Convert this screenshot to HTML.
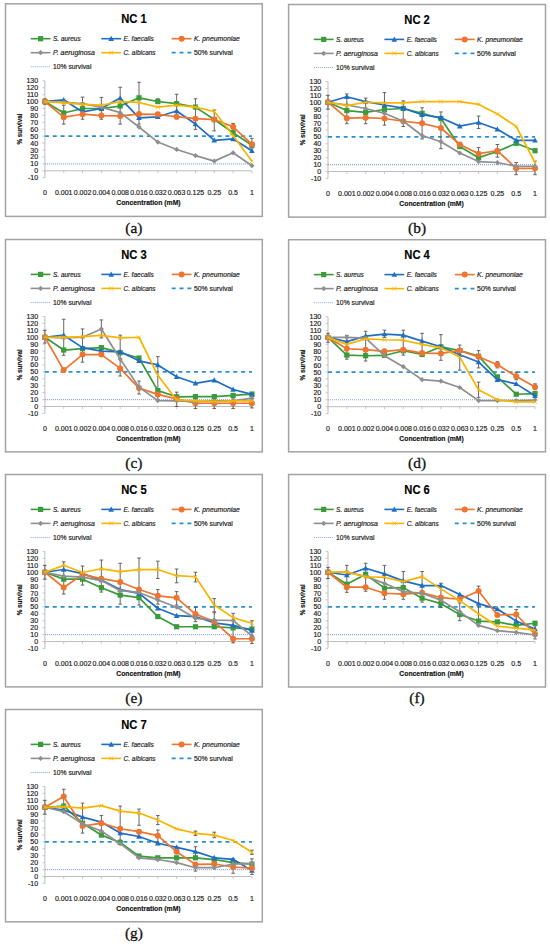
<!DOCTYPE html><html><head><meta charset="utf-8"><style>html,body{margin:0;padding:0;background:#fff;}svg{display:block} text.s{stroke:#222;stroke-width:0.17px;paint-order:stroke} text.l{stroke:#111;stroke-width:0.3px}</style></head><body>
<svg width="550" height="947" viewBox="0 0 550 947">
<rect width="550" height="947" fill="#fff"/>
<g><rect x="5.5" y="3.8" width="256.8" height="212.6" fill="none" stroke="#a3a3a3" stroke-width="1.5"/><text x="133.9" y="23" class="s" font-family='"Liberation Sans", sans-serif' font-weight="bold" font-size="12.5" text-anchor="middle" fill="#000" textLength="25.5" lengthAdjust="spacingAndGlyphs">NC 1</text><line x1="30.7" y1="38.7" x2="50.5" y2="38.7" stroke="#3a9b3a" stroke-width="1.6"/><rect x="38" y="36.1" width="5.2" height="5.2" fill="#3a9b3a"/><text x="53" y="41.1" class="s" font-family='"Liberation Sans", sans-serif' font-size="6.6" font-style="italic" fill="#222" textLength="27.7" lengthAdjust="spacingAndGlyphs">S. aureus</text><line x1="101.3" y1="38.7" x2="121.1" y2="38.7" stroke="#1f6ec4" stroke-width="1.6"/><path d="M111.2 35.76L114 40.94L108.4 40.94Z" fill="#1f6ec4"/><text x="123.6" y="41.1" class="s" font-family='"Liberation Sans", sans-serif' font-size="6.6" font-style="italic" fill="#222" textLength="30.2" lengthAdjust="spacingAndGlyphs">E. faecalis</text><line x1="171.7" y1="38.7" x2="191.5" y2="38.7" stroke="#ee7430" stroke-width="1.6"/><circle cx="181.6" cy="38.7" r="3" fill="#ee7430"/><text x="194" y="41.1" class="s" font-family='"Liberation Sans", sans-serif' font-size="6.6" font-style="italic" fill="#222" textLength="45.8" lengthAdjust="spacingAndGlyphs">K. pneumoniae</text><line x1="30.7" y1="52.7" x2="50.5" y2="52.7" stroke="#8f8f8f" stroke-width="1.6"/><path d="M40.6 50.1L43.2 52.7L40.6 55.3L38 52.7Z" fill="#8f8f8f"/><text x="53" y="55.1" class="s" font-family='"Liberation Sans", sans-serif' font-size="6.6" font-style="italic" fill="#222" textLength="41.8" lengthAdjust="spacingAndGlyphs">P. aeruginosa</text><line x1="101.3" y1="52.7" x2="121.1" y2="52.7" stroke="#f7b500" stroke-width="1.6"/><path d="M109.2 50.7L113.2 54.7M113.2 50.7L109.2 54.7" stroke="#f7b500" stroke-width="0.8" fill="none"/><text x="123.6" y="55.1" class="s" font-family='"Liberation Sans", sans-serif' font-size="6.6" font-style="italic" fill="#222" textLength="32" lengthAdjust="spacingAndGlyphs">C. albicans</text><line x1="171.7" y1="52.7" x2="191.5" y2="52.7" stroke="#2891cf" stroke-width="1.8" stroke-dasharray="4 3.85"/><text x="194" y="55.1" class="s" font-family='"Liberation Sans", sans-serif' font-size="6.6" fill="#222" textLength="38.8" lengthAdjust="spacingAndGlyphs">50% survival</text><line x1="30.7" y1="66.8" x2="50.5" y2="66.8" stroke="#8aa4df" stroke-width="1" stroke-dasharray="1 1"/><text x="53" y="69.2" class="s" font-family='"Liberation Sans", sans-serif' font-size="6.6" fill="#222" textLength="38.4" lengthAdjust="spacingAndGlyphs">10% survival</text><line x1="44.9" y1="80.78" x2="44.9" y2="177.73" stroke="#bdbdbd" stroke-width="1"/><line x1="42.4" y1="177.73" x2="44.9" y2="177.73" stroke="#bdbdbd" stroke-width="0.8"/><text x="38.1" y="180.23" class="s" font-family='"Liberation Sans", sans-serif' font-size="7" text-anchor="end" fill="#222">-10</text><line x1="42.4" y1="170.8" x2="44.9" y2="170.8" stroke="#bdbdbd" stroke-width="0.8"/><text x="38.1" y="173.3" class="s" font-family='"Liberation Sans", sans-serif' font-size="7" text-anchor="end" fill="#222">0</text><line x1="42.4" y1="163.88" x2="44.9" y2="163.88" stroke="#bdbdbd" stroke-width="0.8"/><text x="38.1" y="166.38" class="s" font-family='"Liberation Sans", sans-serif' font-size="7" text-anchor="end" fill="#222">10</text><line x1="42.4" y1="156.95" x2="44.9" y2="156.95" stroke="#bdbdbd" stroke-width="0.8"/><text x="38.1" y="159.45" class="s" font-family='"Liberation Sans", sans-serif' font-size="7" text-anchor="end" fill="#222">20</text><line x1="42.4" y1="150.03" x2="44.9" y2="150.03" stroke="#bdbdbd" stroke-width="0.8"/><text x="38.1" y="152.53" class="s" font-family='"Liberation Sans", sans-serif' font-size="7" text-anchor="end" fill="#222">30</text><line x1="42.4" y1="143.1" x2="44.9" y2="143.1" stroke="#bdbdbd" stroke-width="0.8"/><text x="38.1" y="145.6" class="s" font-family='"Liberation Sans", sans-serif' font-size="7" text-anchor="end" fill="#222">40</text><line x1="42.4" y1="136.18" x2="44.9" y2="136.18" stroke="#bdbdbd" stroke-width="0.8"/><text x="38.1" y="138.68" class="s" font-family='"Liberation Sans", sans-serif' font-size="7" text-anchor="end" fill="#222">50</text><line x1="42.4" y1="129.25" x2="44.9" y2="129.25" stroke="#bdbdbd" stroke-width="0.8"/><text x="38.1" y="131.75" class="s" font-family='"Liberation Sans", sans-serif' font-size="7" text-anchor="end" fill="#222">60</text><line x1="42.4" y1="122.33" x2="44.9" y2="122.33" stroke="#bdbdbd" stroke-width="0.8"/><text x="38.1" y="124.83" class="s" font-family='"Liberation Sans", sans-serif' font-size="7" text-anchor="end" fill="#222">70</text><line x1="42.4" y1="115.4" x2="44.9" y2="115.4" stroke="#bdbdbd" stroke-width="0.8"/><text x="38.1" y="117.9" class="s" font-family='"Liberation Sans", sans-serif' font-size="7" text-anchor="end" fill="#222">80</text><line x1="42.4" y1="108.48" x2="44.9" y2="108.48" stroke="#bdbdbd" stroke-width="0.8"/><text x="38.1" y="110.98" class="s" font-family='"Liberation Sans", sans-serif' font-size="7" text-anchor="end" fill="#222">90</text><line x1="42.4" y1="101.55" x2="44.9" y2="101.55" stroke="#bdbdbd" stroke-width="0.8"/><text x="38.1" y="104.05" class="s" font-family='"Liberation Sans", sans-serif' font-size="7" text-anchor="end" fill="#222">100</text><line x1="42.4" y1="94.63" x2="44.9" y2="94.63" stroke="#bdbdbd" stroke-width="0.8"/><text x="38.1" y="97.13" class="s" font-family='"Liberation Sans", sans-serif' font-size="7" text-anchor="end" fill="#222">110</text><line x1="42.4" y1="87.7" x2="44.9" y2="87.7" stroke="#bdbdbd" stroke-width="0.8"/><text x="38.1" y="90.2" class="s" font-family='"Liberation Sans", sans-serif' font-size="7" text-anchor="end" fill="#222">120</text><line x1="42.4" y1="80.78" x2="44.9" y2="80.78" stroke="#bdbdbd" stroke-width="0.8"/><text x="38.1" y="83.28" class="s" font-family='"Liberation Sans", sans-serif' font-size="7" text-anchor="end" fill="#222">130</text><line x1="44.9" y1="170.8" x2="251.92" y2="170.8" stroke="#bdbdbd" stroke-width="1"/><line x1="44.9" y1="170.8" x2="44.9" y2="173.3" stroke="#bdbdbd" stroke-width="0.8"/><text x="44.9" y="195.2" class="s" font-family='"Liberation Sans", sans-serif' font-size="7" text-anchor="middle" fill="#222">0</text><line x1="63.72" y1="170.8" x2="63.72" y2="173.3" stroke="#bdbdbd" stroke-width="0.8"/><text x="63.72" y="195.2" class="s" font-family='"Liberation Sans", sans-serif' font-size="7" text-anchor="middle" fill="#222">0.001</text><line x1="82.54" y1="170.8" x2="82.54" y2="173.3" stroke="#bdbdbd" stroke-width="0.8"/><text x="82.54" y="195.2" class="s" font-family='"Liberation Sans", sans-serif' font-size="7" text-anchor="middle" fill="#222">0.002</text><line x1="101.36" y1="170.8" x2="101.36" y2="173.3" stroke="#bdbdbd" stroke-width="0.8"/><text x="101.36" y="195.2" class="s" font-family='"Liberation Sans", sans-serif' font-size="7" text-anchor="middle" fill="#222">0.004</text><line x1="120.18" y1="170.8" x2="120.18" y2="173.3" stroke="#bdbdbd" stroke-width="0.8"/><text x="120.18" y="195.2" class="s" font-family='"Liberation Sans", sans-serif' font-size="7" text-anchor="middle" fill="#222">0.008</text><line x1="139" y1="170.8" x2="139" y2="173.3" stroke="#bdbdbd" stroke-width="0.8"/><text x="139" y="195.2" class="s" font-family='"Liberation Sans", sans-serif' font-size="7" text-anchor="middle" fill="#222">0.016</text><line x1="157.82" y1="170.8" x2="157.82" y2="173.3" stroke="#bdbdbd" stroke-width="0.8"/><text x="157.82" y="195.2" class="s" font-family='"Liberation Sans", sans-serif' font-size="7" text-anchor="middle" fill="#222">0.032</text><line x1="176.64" y1="170.8" x2="176.64" y2="173.3" stroke="#bdbdbd" stroke-width="0.8"/><text x="176.64" y="195.2" class="s" font-family='"Liberation Sans", sans-serif' font-size="7" text-anchor="middle" fill="#222">0.063</text><line x1="195.46" y1="170.8" x2="195.46" y2="173.3" stroke="#bdbdbd" stroke-width="0.8"/><text x="195.46" y="195.2" class="s" font-family='"Liberation Sans", sans-serif' font-size="7" text-anchor="middle" fill="#222">0.125</text><line x1="214.28" y1="170.8" x2="214.28" y2="173.3" stroke="#bdbdbd" stroke-width="0.8"/><text x="214.28" y="195.2" class="s" font-family='"Liberation Sans", sans-serif' font-size="7" text-anchor="middle" fill="#222">0.25</text><line x1="233.1" y1="170.8" x2="233.1" y2="173.3" stroke="#bdbdbd" stroke-width="0.8"/><text x="233.1" y="195.2" class="s" font-family='"Liberation Sans", sans-serif' font-size="7" text-anchor="middle" fill="#222">0.5</text><line x1="251.92" y1="170.8" x2="251.92" y2="173.3" stroke="#bdbdbd" stroke-width="0.8"/><text x="251.92" y="195.2" class="s" font-family='"Liberation Sans", sans-serif' font-size="7" text-anchor="middle" fill="#222">1</text><text x="148.41" y="205.2" class="s" font-family='"Liberation Sans", sans-serif' font-size="7.4" font-weight="bold" text-anchor="middle" fill="#111" textLength="64.4" lengthAdjust="spacingAndGlyphs">Concentration (mM)</text><text transform="translate(22.3,129) rotate(-90)" class="s" font-family='"Liberation Sans", sans-serif' font-size="7.4" font-weight="bold" text-anchor="middle" fill="#111" textLength="31" lengthAdjust="spacingAndGlyphs">% survival</text><line x1="44.9" y1="163.88" x2="251.92" y2="163.88" stroke="#8aa4df" stroke-width="1.2" stroke-dasharray="1 1"/><line x1="44.9" y1="136.18" x2="251.92" y2="136.18" stroke="#2891cf" stroke-width="1.8" stroke-dasharray="4 3.85"/><path d="M44.9 98.78L44.9 104.32M43.1 98.78L46.7 98.78M43.1 104.32L46.7 104.32" stroke="#555" stroke-width="0.9" fill="none"/><path d="M63.72 105.29L63.72 124.13M61.92 105.29L65.52 105.29M61.92 124.13L65.52 124.13" stroke="#555" stroke-width="0.9" fill="none"/><path d="M82.54 97.12L82.54 119.21M80.74 97.12L84.34 97.12M80.74 119.21L84.34 119.21" stroke="#555" stroke-width="0.9" fill="none"/><path d="M101.36 97.4L101.36 119.21M99.56 97.4L103.16 97.4M99.56 119.21L103.16 119.21" stroke="#555" stroke-width="0.9" fill="none"/><path d="M120.18 87.28L120.18 124.13M118.38 87.28L121.98 87.28M118.38 124.13L121.98 124.13" stroke="#555" stroke-width="0.9" fill="none"/><path d="M139 82.3L139 124.06M137.2 82.3L140.8 82.3M137.2 124.06L140.8 124.06" stroke="#555" stroke-width="0.9" fill="none"/><path d="M157.82 98.78L157.82 103.63M156.02 98.78L159.62 98.78M156.02 103.63L159.62 103.63" stroke="#555" stroke-width="0.9" fill="none"/><path d="M176.64 94.28L176.64 118.86M174.84 94.28L178.44 94.28M174.84 118.86L178.44 118.86" stroke="#555" stroke-width="0.9" fill="none"/><path d="M195.46 98.78L195.46 129.39M193.66 98.78L197.26 98.78M193.66 129.39L197.26 129.39" stroke="#555" stroke-width="0.9" fill="none"/><path d="M214.28 110L214.28 130.84M212.48 110L216.08 110M212.48 130.84L216.08 130.84" stroke="#555" stroke-width="0.9" fill="none"/><path d="M233.1 123.43L233.1 130.15M231.3 123.43L234.9 123.43M231.3 130.15L234.9 130.15" stroke="#555" stroke-width="0.9" fill="none"/><path d="M251.92 138.32L251.92 148.02M250.12 138.32L253.72 138.32M250.12 148.02L253.72 148.02" stroke="#555" stroke-width="0.9" fill="none"/><polyline points="44.9,101.55 63.72,112.98 82.54,108.48 101.36,108.48 120.18,106.05 139,97.81 157.82,101.48 176.64,103.63 195.46,107.09 214.28,119.56 233.1,132.71 251.92,145.18" fill="none" stroke="#3a9b3a" stroke-width="1.7" stroke-linejoin="round"/><rect x="42.3" y="98.95" width="5.2" height="5.2" fill="#3a9b3a"/><rect x="61.12" y="110.38" width="5.2" height="5.2" fill="#3a9b3a"/><rect x="79.94" y="105.88" width="5.2" height="5.2" fill="#3a9b3a"/><rect x="98.76" y="105.88" width="5.2" height="5.2" fill="#3a9b3a"/><rect x="117.58" y="103.45" width="5.2" height="5.2" fill="#3a9b3a"/><rect x="136.4" y="95.21" width="5.2" height="5.2" fill="#3a9b3a"/><rect x="155.22" y="98.88" width="5.2" height="5.2" fill="#3a9b3a"/><rect x="174.04" y="101.03" width="5.2" height="5.2" fill="#3a9b3a"/><rect x="192.86" y="104.49" width="5.2" height="5.2" fill="#3a9b3a"/><rect x="211.68" y="116.96" width="5.2" height="5.2" fill="#3a9b3a"/><rect x="230.5" y="130.11" width="5.2" height="5.2" fill="#3a9b3a"/><rect x="249.32" y="142.58" width="5.2" height="5.2" fill="#3a9b3a"/><polyline points="44.9,101.55 63.72,99.82 82.54,111.94 101.36,108.48 120.18,98.09 139,117.82 157.82,116.79 176.64,110.97 195.46,124.06 214.28,140.33 233.1,138.95 251.92,150.72" fill="none" stroke="#1f6ec4" stroke-width="1.7" stroke-linejoin="round"/><path d="M44.9 98.61L47.7 103.79L42.1 103.79Z" fill="#1f6ec4"/><path d="M63.72 96.88L66.52 102.06L60.92 102.06Z" fill="#1f6ec4"/><path d="M82.54 109L85.34 114.18L79.74 114.18Z" fill="#1f6ec4"/><path d="M101.36 105.54L104.16 110.72L98.56 110.72Z" fill="#1f6ec4"/><path d="M120.18 95.15L122.98 100.33L117.38 100.33Z" fill="#1f6ec4"/><path d="M139 114.88L141.8 120.06L136.2 120.06Z" fill="#1f6ec4"/><path d="M157.82 113.85L160.62 119.03L155.02 119.03Z" fill="#1f6ec4"/><path d="M176.64 108.03L179.44 113.21L173.84 113.21Z" fill="#1f6ec4"/><path d="M195.46 121.12L198.26 126.3L192.66 126.3Z" fill="#1f6ec4"/><path d="M214.28 137.39L217.08 142.57L211.48 142.57Z" fill="#1f6ec4"/><path d="M233.1 136.01L235.9 141.19L230.3 141.19Z" fill="#1f6ec4"/><path d="M251.92 147.78L254.72 152.96L249.12 152.96Z" fill="#1f6ec4"/><polyline points="44.9,101.55 63.72,117.2 82.54,114.22 101.36,115.54 120.18,115.88 139,114.08 157.82,114.29 176.64,116.72 195.46,118.65 214.28,119.56 233.1,126.83 251.92,144.28" fill="none" stroke="#ee7430" stroke-width="1.7" stroke-linejoin="round"/><circle cx="44.9" cy="101.55" r="3" fill="#ee7430"/><circle cx="63.72" cy="117.2" r="3" fill="#ee7430"/><circle cx="82.54" cy="114.22" r="3" fill="#ee7430"/><circle cx="101.36" cy="115.54" r="3" fill="#ee7430"/><circle cx="120.18" cy="115.88" r="3" fill="#ee7430"/><circle cx="139" cy="114.08" r="3" fill="#ee7430"/><circle cx="157.82" cy="114.29" r="3" fill="#ee7430"/><circle cx="176.64" cy="116.72" r="3" fill="#ee7430"/><circle cx="195.46" cy="118.65" r="3" fill="#ee7430"/><circle cx="214.28" cy="119.56" r="3" fill="#ee7430"/><circle cx="233.1" cy="126.83" r="3" fill="#ee7430"/><circle cx="251.92" cy="144.28" r="3" fill="#ee7430"/><polyline points="44.9,101.55 63.72,102.24 82.54,103.63 101.36,107.09 120.18,112.63 139,127.03 157.82,142.06 176.64,149.47 195.46,155.56 214.28,161.11 233.1,152.8 251.92,165.68" fill="none" stroke="#8f8f8f" stroke-width="1.7" stroke-linejoin="round"/><path d="M44.9 98.95L47.5 101.55L44.9 104.15L42.3 101.55Z" fill="#8f8f8f"/><path d="M63.72 99.64L66.32 102.24L63.72 104.84L61.12 102.24Z" fill="#8f8f8f"/><path d="M82.54 101.03L85.14 103.63L82.54 106.23L79.94 103.63Z" fill="#8f8f8f"/><path d="M101.36 104.49L103.96 107.09L101.36 109.69L98.76 107.09Z" fill="#8f8f8f"/><path d="M120.18 110.03L122.78 112.63L120.18 115.23L117.58 112.63Z" fill="#8f8f8f"/><path d="M139 124.43L141.6 127.03L139 129.63L136.4 127.03Z" fill="#8f8f8f"/><path d="M157.82 139.46L160.42 142.06L157.82 144.66L155.22 142.06Z" fill="#8f8f8f"/><path d="M176.64 146.87L179.24 149.47L176.64 152.07L174.04 149.47Z" fill="#8f8f8f"/><path d="M195.46 152.97L198.06 155.56L195.46 158.16L192.86 155.56Z" fill="#8f8f8f"/><path d="M214.28 158.51L216.88 161.11L214.28 163.71L211.68 161.11Z" fill="#8f8f8f"/><path d="M233.1 150.2L235.7 152.8L233.1 155.4L230.5 152.8Z" fill="#8f8f8f"/><path d="M251.92 163.08L254.52 165.68L251.92 168.28L249.32 165.68Z" fill="#8f8f8f"/><polyline points="44.9,101.55 63.72,102.94 82.54,104.32 101.36,105.22 120.18,101.69 139,102.45 157.82,107.16 176.64,105.22 195.46,107.09 214.28,111.52 233.1,135.48 251.92,161.17" fill="none" stroke="#f7b500" stroke-width="1.7" stroke-linejoin="round"/><path d="M42.9 99.55L46.9 103.55M46.9 99.55L42.9 103.55" stroke="#f7b500" stroke-width="0.8" fill="none"/><path d="M61.72 100.94L65.72 104.94M65.72 100.94L61.72 104.94" stroke="#f7b500" stroke-width="0.8" fill="none"/><path d="M80.54 102.32L84.54 106.32M84.54 102.32L80.54 106.32" stroke="#f7b500" stroke-width="0.8" fill="none"/><path d="M99.36 103.22L103.36 107.22M103.36 103.22L99.36 107.22" stroke="#f7b500" stroke-width="0.8" fill="none"/><path d="M118.18 99.69L122.18 103.69M122.18 99.69L118.18 103.69" stroke="#f7b500" stroke-width="0.8" fill="none"/><path d="M137 100.45L141 104.45M141 100.45L137 104.45" stroke="#f7b500" stroke-width="0.8" fill="none"/><path d="M155.82 105.16L159.82 109.16M159.82 105.16L155.82 109.16" stroke="#f7b500" stroke-width="0.8" fill="none"/><path d="M174.64 103.22L178.64 107.22M178.64 103.22L174.64 107.22" stroke="#f7b500" stroke-width="0.8" fill="none"/><path d="M193.46 105.09L197.46 109.09M197.46 105.09L193.46 109.09" stroke="#f7b500" stroke-width="0.8" fill="none"/><path d="M212.28 109.52L216.28 113.52M216.28 109.52L212.28 113.52" stroke="#f7b500" stroke-width="0.8" fill="none"/><path d="M231.1 133.48L235.1 137.48M235.1 133.48L231.1 137.48" stroke="#f7b500" stroke-width="0.8" fill="none"/><path d="M249.92 159.17L253.92 163.17M253.92 159.17L249.92 163.17" stroke="#f7b500" stroke-width="0.8" fill="none"/><text x="133.9" y="233.3" class="l" font-family='"Liberation Serif", serif' font-size="15.4" text-anchor="middle" fill="#111">(a)</text></g>
<g><rect x="288.6" y="4.5" width="256.9" height="212.6" fill="none" stroke="#a3a3a3" stroke-width="1.5"/><text x="417.05" y="23.7" class="s" font-family='"Liberation Sans", sans-serif' font-weight="bold" font-size="12.5" text-anchor="middle" fill="#000" textLength="25.5" lengthAdjust="spacingAndGlyphs">NC 2</text><line x1="313.8" y1="39.4" x2="333.6" y2="39.4" stroke="#3a9b3a" stroke-width="1.6"/><rect x="321.1" y="36.8" width="5.2" height="5.2" fill="#3a9b3a"/><text x="336.1" y="41.8" class="s" font-family='"Liberation Sans", sans-serif' font-size="6.6" font-style="italic" fill="#222" textLength="27.7" lengthAdjust="spacingAndGlyphs">S. aureus</text><line x1="384.4" y1="39.4" x2="404.2" y2="39.4" stroke="#1f6ec4" stroke-width="1.6"/><path d="M394.3 36.46L397.1 41.64L391.5 41.64Z" fill="#1f6ec4"/><text x="406.7" y="41.8" class="s" font-family='"Liberation Sans", sans-serif' font-size="6.6" font-style="italic" fill="#222" textLength="30.2" lengthAdjust="spacingAndGlyphs">E. faecalis</text><line x1="454.8" y1="39.4" x2="474.6" y2="39.4" stroke="#ee7430" stroke-width="1.6"/><circle cx="464.7" cy="39.4" r="3" fill="#ee7430"/><text x="477.1" y="41.8" class="s" font-family='"Liberation Sans", sans-serif' font-size="6.6" font-style="italic" fill="#222" textLength="45.8" lengthAdjust="spacingAndGlyphs">K. pneumoniae</text><line x1="313.8" y1="53.4" x2="333.6" y2="53.4" stroke="#8f8f8f" stroke-width="1.6"/><path d="M323.7 50.8L326.3 53.4L323.7 56L321.1 53.4Z" fill="#8f8f8f"/><text x="336.1" y="55.8" class="s" font-family='"Liberation Sans", sans-serif' font-size="6.6" font-style="italic" fill="#222" textLength="41.8" lengthAdjust="spacingAndGlyphs">P. aeruginosa</text><line x1="384.4" y1="53.4" x2="404.2" y2="53.4" stroke="#f7b500" stroke-width="1.6"/><path d="M392.3 51.4L396.3 55.4M396.3 51.4L392.3 55.4" stroke="#f7b500" stroke-width="0.8" fill="none"/><text x="406.7" y="55.8" class="s" font-family='"Liberation Sans", sans-serif' font-size="6.6" font-style="italic" fill="#222" textLength="32" lengthAdjust="spacingAndGlyphs">C. albicans</text><line x1="454.8" y1="53.4" x2="474.6" y2="53.4" stroke="#2891cf" stroke-width="1.8" stroke-dasharray="4 3.85"/><text x="477.1" y="55.8" class="s" font-family='"Liberation Sans", sans-serif' font-size="6.6" fill="#222" textLength="38.8" lengthAdjust="spacingAndGlyphs">50% survival</text><line x1="313.8" y1="67.5" x2="333.6" y2="67.5" stroke="#8aa4df" stroke-width="1" stroke-dasharray="1 1"/><text x="336.1" y="69.9" class="s" font-family='"Liberation Sans", sans-serif' font-size="6.6" fill="#222" textLength="38.4" lengthAdjust="spacingAndGlyphs">10% survival</text><line x1="328" y1="81.47" x2="328" y2="178.43" stroke="#bdbdbd" stroke-width="1"/><line x1="325.5" y1="178.43" x2="328" y2="178.43" stroke="#bdbdbd" stroke-width="0.8"/><text x="321.2" y="180.93" class="s" font-family='"Liberation Sans", sans-serif' font-size="7" text-anchor="end" fill="#222">-10</text><line x1="325.5" y1="171.5" x2="328" y2="171.5" stroke="#bdbdbd" stroke-width="0.8"/><text x="321.2" y="174" class="s" font-family='"Liberation Sans", sans-serif' font-size="7" text-anchor="end" fill="#222">0</text><line x1="325.5" y1="164.57" x2="328" y2="164.57" stroke="#bdbdbd" stroke-width="0.8"/><text x="321.2" y="167.07" class="s" font-family='"Liberation Sans", sans-serif' font-size="7" text-anchor="end" fill="#222">10</text><line x1="325.5" y1="157.65" x2="328" y2="157.65" stroke="#bdbdbd" stroke-width="0.8"/><text x="321.2" y="160.15" class="s" font-family='"Liberation Sans", sans-serif' font-size="7" text-anchor="end" fill="#222">20</text><line x1="325.5" y1="150.72" x2="328" y2="150.72" stroke="#bdbdbd" stroke-width="0.8"/><text x="321.2" y="153.22" class="s" font-family='"Liberation Sans", sans-serif' font-size="7" text-anchor="end" fill="#222">30</text><line x1="325.5" y1="143.8" x2="328" y2="143.8" stroke="#bdbdbd" stroke-width="0.8"/><text x="321.2" y="146.3" class="s" font-family='"Liberation Sans", sans-serif' font-size="7" text-anchor="end" fill="#222">40</text><line x1="325.5" y1="136.88" x2="328" y2="136.88" stroke="#bdbdbd" stroke-width="0.8"/><text x="321.2" y="139.38" class="s" font-family='"Liberation Sans", sans-serif' font-size="7" text-anchor="end" fill="#222">50</text><line x1="325.5" y1="129.95" x2="328" y2="129.95" stroke="#bdbdbd" stroke-width="0.8"/><text x="321.2" y="132.45" class="s" font-family='"Liberation Sans", sans-serif' font-size="7" text-anchor="end" fill="#222">60</text><line x1="325.5" y1="123.03" x2="328" y2="123.03" stroke="#bdbdbd" stroke-width="0.8"/><text x="321.2" y="125.53" class="s" font-family='"Liberation Sans", sans-serif' font-size="7" text-anchor="end" fill="#222">70</text><line x1="325.5" y1="116.1" x2="328" y2="116.1" stroke="#bdbdbd" stroke-width="0.8"/><text x="321.2" y="118.6" class="s" font-family='"Liberation Sans", sans-serif' font-size="7" text-anchor="end" fill="#222">80</text><line x1="325.5" y1="109.17" x2="328" y2="109.17" stroke="#bdbdbd" stroke-width="0.8"/><text x="321.2" y="111.67" class="s" font-family='"Liberation Sans", sans-serif' font-size="7" text-anchor="end" fill="#222">90</text><line x1="325.5" y1="102.25" x2="328" y2="102.25" stroke="#bdbdbd" stroke-width="0.8"/><text x="321.2" y="104.75" class="s" font-family='"Liberation Sans", sans-serif' font-size="7" text-anchor="end" fill="#222">100</text><line x1="325.5" y1="95.33" x2="328" y2="95.33" stroke="#bdbdbd" stroke-width="0.8"/><text x="321.2" y="97.83" class="s" font-family='"Liberation Sans", sans-serif' font-size="7" text-anchor="end" fill="#222">110</text><line x1="325.5" y1="88.4" x2="328" y2="88.4" stroke="#bdbdbd" stroke-width="0.8"/><text x="321.2" y="90.9" class="s" font-family='"Liberation Sans", sans-serif' font-size="7" text-anchor="end" fill="#222">120</text><line x1="325.5" y1="81.47" x2="328" y2="81.47" stroke="#bdbdbd" stroke-width="0.8"/><text x="321.2" y="83.97" class="s" font-family='"Liberation Sans", sans-serif' font-size="7" text-anchor="end" fill="#222">130</text><line x1="328" y1="171.5" x2="535.02" y2="171.5" stroke="#bdbdbd" stroke-width="1"/><line x1="328" y1="171.5" x2="328" y2="174" stroke="#bdbdbd" stroke-width="0.8"/><text x="328" y="195.9" class="s" font-family='"Liberation Sans", sans-serif' font-size="7" text-anchor="middle" fill="#222">0</text><line x1="346.82" y1="171.5" x2="346.82" y2="174" stroke="#bdbdbd" stroke-width="0.8"/><text x="346.82" y="195.9" class="s" font-family='"Liberation Sans", sans-serif' font-size="7" text-anchor="middle" fill="#222">0.001</text><line x1="365.64" y1="171.5" x2="365.64" y2="174" stroke="#bdbdbd" stroke-width="0.8"/><text x="365.64" y="195.9" class="s" font-family='"Liberation Sans", sans-serif' font-size="7" text-anchor="middle" fill="#222">0.002</text><line x1="384.46" y1="171.5" x2="384.46" y2="174" stroke="#bdbdbd" stroke-width="0.8"/><text x="384.46" y="195.9" class="s" font-family='"Liberation Sans", sans-serif' font-size="7" text-anchor="middle" fill="#222">0.004</text><line x1="403.28" y1="171.5" x2="403.28" y2="174" stroke="#bdbdbd" stroke-width="0.8"/><text x="403.28" y="195.9" class="s" font-family='"Liberation Sans", sans-serif' font-size="7" text-anchor="middle" fill="#222">0.008</text><line x1="422.1" y1="171.5" x2="422.1" y2="174" stroke="#bdbdbd" stroke-width="0.8"/><text x="422.1" y="195.9" class="s" font-family='"Liberation Sans", sans-serif' font-size="7" text-anchor="middle" fill="#222">0.016</text><line x1="440.92" y1="171.5" x2="440.92" y2="174" stroke="#bdbdbd" stroke-width="0.8"/><text x="440.92" y="195.9" class="s" font-family='"Liberation Sans", sans-serif' font-size="7" text-anchor="middle" fill="#222">0.032</text><line x1="459.74" y1="171.5" x2="459.74" y2="174" stroke="#bdbdbd" stroke-width="0.8"/><text x="459.74" y="195.9" class="s" font-family='"Liberation Sans", sans-serif' font-size="7" text-anchor="middle" fill="#222">0.063</text><line x1="478.56" y1="171.5" x2="478.56" y2="174" stroke="#bdbdbd" stroke-width="0.8"/><text x="478.56" y="195.9" class="s" font-family='"Liberation Sans", sans-serif' font-size="7" text-anchor="middle" fill="#222">0.125</text><line x1="497.38" y1="171.5" x2="497.38" y2="174" stroke="#bdbdbd" stroke-width="0.8"/><text x="497.38" y="195.9" class="s" font-family='"Liberation Sans", sans-serif' font-size="7" text-anchor="middle" fill="#222">0.25</text><line x1="516.2" y1="171.5" x2="516.2" y2="174" stroke="#bdbdbd" stroke-width="0.8"/><text x="516.2" y="195.9" class="s" font-family='"Liberation Sans", sans-serif' font-size="7" text-anchor="middle" fill="#222">0.5</text><line x1="535.02" y1="171.5" x2="535.02" y2="174" stroke="#bdbdbd" stroke-width="0.8"/><text x="535.02" y="195.9" class="s" font-family='"Liberation Sans", sans-serif' font-size="7" text-anchor="middle" fill="#222">1</text><text x="431.51" y="205.9" class="s" font-family='"Liberation Sans", sans-serif' font-size="7.4" font-weight="bold" text-anchor="middle" fill="#111" textLength="64.4" lengthAdjust="spacingAndGlyphs">Concentration (mM)</text><text transform="translate(305.4,129.7) rotate(-90)" class="s" font-family='"Liberation Sans", sans-serif' font-size="7.4" font-weight="bold" text-anchor="middle" fill="#111" textLength="31" lengthAdjust="spacingAndGlyphs">% survival</text><line x1="328" y1="164.57" x2="535.02" y2="164.57" stroke="#8aa4df" stroke-width="1.2" stroke-dasharray="1 1"/><line x1="328" y1="136.88" x2="535.02" y2="136.88" stroke="#2891cf" stroke-width="1.8" stroke-dasharray="4 3.85"/><path d="M328 95.33L328 109.17M326.2 95.33L329.8 95.33M326.2 109.17L329.8 109.17" stroke="#555" stroke-width="0.9" fill="none"/><path d="M346.82 93.94L346.82 123.72M345.02 93.94L348.62 93.94M345.02 123.72L348.62 123.72" stroke="#555" stroke-width="0.9" fill="none"/><path d="M365.64 98.09L365.64 123.72M363.84 98.09L367.44 98.09M363.84 123.72L367.44 123.72" stroke="#555" stroke-width="0.9" fill="none"/><path d="M384.46 92.55L384.46 125.1M382.66 92.55L386.26 92.55M382.66 125.1L386.26 125.1" stroke="#555" stroke-width="0.9" fill="none"/><path d="M403.28 100.86L403.28 126.49M401.48 100.86L405.08 100.86M401.48 126.49L405.08 126.49" stroke="#555" stroke-width="0.9" fill="none"/><path d="M422.1 107.79L422.1 138.95M420.3 107.79L423.9 107.79M420.3 138.95L423.9 138.95" stroke="#555" stroke-width="0.9" fill="none"/><path d="M440.92 111.94L440.92 148.65M439.12 111.94L442.72 111.94M439.12 148.65L442.72 148.65" stroke="#555" stroke-width="0.9" fill="none"/><path d="M459.74 142.41L459.74 147.95M457.94 142.41L461.54 142.41M457.94 147.95L461.54 147.95" stroke="#555" stroke-width="0.9" fill="none"/><path d="M478.56 116.1L478.56 128.56M476.76 116.1L480.36 116.1M476.76 128.56L480.36 128.56" stroke="#555" stroke-width="0.9" fill="none"/><path d="M478.56 147.61L478.56 159.73M476.76 147.61L480.36 147.61M476.76 159.73L480.36 159.73" stroke="#555" stroke-width="0.9" fill="none"/><path d="M497.38 144.49L497.38 157.17M495.58 144.49L499.18 144.49M495.58 157.17L499.18 157.17" stroke="#555" stroke-width="0.9" fill="none"/><path d="M516.2 162.5L516.2 174.69M514.4 162.5L518 162.5M514.4 174.69L518 174.69" stroke="#555" stroke-width="0.9" fill="none"/><path d="M535.02 161.11L535.02 174.69M533.22 161.11L536.82 161.11M533.22 174.69L536.82 174.69" stroke="#555" stroke-width="0.9" fill="none"/><polyline points="328,102.25 346.82,110.56 365.64,112.29 384.46,109.52 403.28,108.48 422.1,113.33 440.92,118.52 459.74,146.57 478.56,157.65 497.38,151.56 516.2,143.32 535.02,150.72" fill="none" stroke="#3a9b3a" stroke-width="1.7" stroke-linejoin="round"/><rect x="325.4" y="99.65" width="5.2" height="5.2" fill="#3a9b3a"/><rect x="344.22" y="107.96" width="5.2" height="5.2" fill="#3a9b3a"/><rect x="363.04" y="109.69" width="5.2" height="5.2" fill="#3a9b3a"/><rect x="381.86" y="106.92" width="5.2" height="5.2" fill="#3a9b3a"/><rect x="400.68" y="105.88" width="5.2" height="5.2" fill="#3a9b3a"/><rect x="419.5" y="110.73" width="5.2" height="5.2" fill="#3a9b3a"/><rect x="438.32" y="115.92" width="5.2" height="5.2" fill="#3a9b3a"/><rect x="457.14" y="143.97" width="5.2" height="5.2" fill="#3a9b3a"/><rect x="475.96" y="155.05" width="5.2" height="5.2" fill="#3a9b3a"/><rect x="494.78" y="148.96" width="5.2" height="5.2" fill="#3a9b3a"/><rect x="513.6" y="140.72" width="5.2" height="5.2" fill="#3a9b3a"/><rect x="532.42" y="148.12" width="5.2" height="5.2" fill="#3a9b3a"/><polyline points="328,102.25 346.82,96.71 365.64,101.56 384.46,105.02 403.28,108.21 422.1,114.72 440.92,117.69 459.74,126.14 478.56,122.54 497.38,129.26 516.2,140.34 535.02,140.34" fill="none" stroke="#1f6ec4" stroke-width="1.7" stroke-linejoin="round"/><path d="M328 99.31L330.8 104.49L325.2 104.49Z" fill="#1f6ec4"/><path d="M346.82 93.77L349.62 98.95L344.02 98.95Z" fill="#1f6ec4"/><path d="M365.64 98.62L368.44 103.8L362.84 103.8Z" fill="#1f6ec4"/><path d="M384.46 102.08L387.26 107.26L381.66 107.26Z" fill="#1f6ec4"/><path d="M403.28 105.27L406.08 110.45L400.48 110.45Z" fill="#1f6ec4"/><path d="M422.1 111.78L424.9 116.95L419.3 116.95Z" fill="#1f6ec4"/><path d="M440.92 114.75L443.72 119.93L438.12 119.93Z" fill="#1f6ec4"/><path d="M459.74 123.2L462.54 128.38L456.94 128.38Z" fill="#1f6ec4"/><path d="M478.56 119.6L481.36 124.78L475.76 124.78Z" fill="#1f6ec4"/><path d="M497.38 126.32L500.18 131.5L494.58 131.5Z" fill="#1f6ec4"/><path d="M516.2 137.4L519 142.58L513.4 142.58Z" fill="#1f6ec4"/><path d="M535.02 137.4L537.82 142.58L532.22 142.58Z" fill="#1f6ec4"/><polyline points="328,102.25 346.82,118.18 365.64,117.69 384.46,118.52 403.28,121.22 422.1,123.37 440.92,128.01 459.74,144.49 478.56,153.63 497.38,150.72 516.2,168.31 535.02,168.31" fill="none" stroke="#ee7430" stroke-width="1.7" stroke-linejoin="round"/><circle cx="328" cy="102.25" r="3" fill="#ee7430"/><circle cx="346.82" cy="118.18" r="3" fill="#ee7430"/><circle cx="365.64" cy="117.69" r="3" fill="#ee7430"/><circle cx="384.46" cy="118.52" r="3" fill="#ee7430"/><circle cx="403.28" cy="121.22" r="3" fill="#ee7430"/><circle cx="422.1" cy="123.37" r="3" fill="#ee7430"/><circle cx="440.92" cy="128.01" r="3" fill="#ee7430"/><circle cx="459.74" cy="144.49" r="3" fill="#ee7430"/><circle cx="478.56" cy="153.63" r="3" fill="#ee7430"/><circle cx="497.38" cy="150.72" r="3" fill="#ee7430"/><circle cx="516.2" cy="168.31" r="3" fill="#ee7430"/><circle cx="535.02" cy="168.31" r="3" fill="#ee7430"/><polyline points="328,102.25 346.82,105.02 365.64,108.48 384.46,113.33 403.28,121.22 422.1,135.49 440.92,141.72 459.74,153.01 478.56,161.6 497.38,162.5 516.2,166.24 535.02,166.24" fill="none" stroke="#8f8f8f" stroke-width="1.7" stroke-linejoin="round"/><path d="M328 99.65L330.6 102.25L328 104.85L325.4 102.25Z" fill="#8f8f8f"/><path d="M346.82 102.42L349.42 105.02L346.82 107.62L344.22 105.02Z" fill="#8f8f8f"/><path d="M365.64 105.88L368.24 108.48L365.64 111.08L363.04 108.48Z" fill="#8f8f8f"/><path d="M384.46 110.73L387.06 113.33L384.46 115.93L381.86 113.33Z" fill="#8f8f8f"/><path d="M403.28 118.62L405.88 121.22L403.28 123.82L400.68 121.22Z" fill="#8f8f8f"/><path d="M422.1 132.89L424.7 135.49L422.1 138.09L419.5 135.49Z" fill="#8f8f8f"/><path d="M440.92 139.12L443.52 141.72L440.92 144.32L438.32 141.72Z" fill="#8f8f8f"/><path d="M459.74 150.41L462.34 153.01L459.74 155.61L457.14 153.01Z" fill="#8f8f8f"/><path d="M478.56 159L481.16 161.6L478.56 164.2L475.96 161.6Z" fill="#8f8f8f"/><path d="M497.38 159.9L499.98 162.5L497.38 165.1L494.78 162.5Z" fill="#8f8f8f"/><path d="M516.2 163.64L518.8 166.24L516.2 168.84L513.6 166.24Z" fill="#8f8f8f"/><path d="M535.02 163.64L537.62 166.24L535.02 168.84L532.42 166.24Z" fill="#8f8f8f"/><polyline points="328,102.25 346.82,105.71 365.64,102.25 384.46,102.94 403.28,102.94 422.1,101.56 440.92,101.56 459.74,101.56 478.56,104.33 497.38,114.02 516.2,126.49 535.02,162.5" fill="none" stroke="#f7b500" stroke-width="1.7" stroke-linejoin="round"/><path d="M326 100.25L330 104.25M330 100.25L326 104.25" stroke="#f7b500" stroke-width="0.8" fill="none"/><path d="M344.82 103.71L348.82 107.71M348.82 103.71L344.82 107.71" stroke="#f7b500" stroke-width="0.8" fill="none"/><path d="M363.64 100.25L367.64 104.25M367.64 100.25L363.64 104.25" stroke="#f7b500" stroke-width="0.8" fill="none"/><path d="M382.46 100.94L386.46 104.94M386.46 100.94L382.46 104.94" stroke="#f7b500" stroke-width="0.8" fill="none"/><path d="M401.28 100.94L405.28 104.94M405.28 100.94L401.28 104.94" stroke="#f7b500" stroke-width="0.8" fill="none"/><path d="M420.1 99.56L424.1 103.56M424.1 99.56L420.1 103.56" stroke="#f7b500" stroke-width="0.8" fill="none"/><path d="M438.92 99.56L442.92 103.56M442.92 99.56L438.92 103.56" stroke="#f7b500" stroke-width="0.8" fill="none"/><path d="M457.74 99.56L461.74 103.56M461.74 99.56L457.74 103.56" stroke="#f7b500" stroke-width="0.8" fill="none"/><path d="M476.56 102.33L480.56 106.33M480.56 102.33L476.56 106.33" stroke="#f7b500" stroke-width="0.8" fill="none"/><path d="M495.38 112.02L499.38 116.02M499.38 112.02L495.38 116.02" stroke="#f7b500" stroke-width="0.8" fill="none"/><path d="M514.2 124.49L518.2 128.49M518.2 124.49L514.2 128.49" stroke="#f7b500" stroke-width="0.8" fill="none"/><path d="M533.02 160.5L537.02 164.5M537.02 160.5L533.02 164.5" stroke="#f7b500" stroke-width="0.8" fill="none"/><text x="417.05" y="233.2" class="l" font-family='"Liberation Serif", serif' font-size="15.4" text-anchor="middle" fill="#111">(b)</text></g>
<g><rect x="5.5" y="239.5" width="256.8" height="212.4" fill="none" stroke="#a3a3a3" stroke-width="1.5"/><text x="133.9" y="258.7" class="s" font-family='"Liberation Sans", sans-serif' font-weight="bold" font-size="12.5" text-anchor="middle" fill="#000" textLength="25.5" lengthAdjust="spacingAndGlyphs">NC 3</text><line x1="30.7" y1="274.4" x2="50.5" y2="274.4" stroke="#3a9b3a" stroke-width="1.6"/><rect x="38" y="271.8" width="5.2" height="5.2" fill="#3a9b3a"/><text x="53" y="276.8" class="s" font-family='"Liberation Sans", sans-serif' font-size="6.6" font-style="italic" fill="#222" textLength="27.7" lengthAdjust="spacingAndGlyphs">S. aureus</text><line x1="101.3" y1="274.4" x2="121.1" y2="274.4" stroke="#1f6ec4" stroke-width="1.6"/><path d="M111.2 271.46L114 276.64L108.4 276.64Z" fill="#1f6ec4"/><text x="123.6" y="276.8" class="s" font-family='"Liberation Sans", sans-serif' font-size="6.6" font-style="italic" fill="#222" textLength="30.2" lengthAdjust="spacingAndGlyphs">E. faecalis</text><line x1="171.7" y1="274.4" x2="191.5" y2="274.4" stroke="#ee7430" stroke-width="1.6"/><circle cx="181.6" cy="274.4" r="3" fill="#ee7430"/><text x="194" y="276.8" class="s" font-family='"Liberation Sans", sans-serif' font-size="6.6" font-style="italic" fill="#222" textLength="45.8" lengthAdjust="spacingAndGlyphs">K. pneumoniae</text><line x1="30.7" y1="288.4" x2="50.5" y2="288.4" stroke="#8f8f8f" stroke-width="1.6"/><path d="M40.6 285.8L43.2 288.4L40.6 291L38 288.4Z" fill="#8f8f8f"/><text x="53" y="290.8" class="s" font-family='"Liberation Sans", sans-serif' font-size="6.6" font-style="italic" fill="#222" textLength="41.8" lengthAdjust="spacingAndGlyphs">P. aeruginosa</text><line x1="101.3" y1="288.4" x2="121.1" y2="288.4" stroke="#f7b500" stroke-width="1.6"/><path d="M109.2 286.4L113.2 290.4M113.2 286.4L109.2 290.4" stroke="#f7b500" stroke-width="0.8" fill="none"/><text x="123.6" y="290.8" class="s" font-family='"Liberation Sans", sans-serif' font-size="6.6" font-style="italic" fill="#222" textLength="32" lengthAdjust="spacingAndGlyphs">C. albicans</text><line x1="171.7" y1="288.4" x2="191.5" y2="288.4" stroke="#2891cf" stroke-width="1.8" stroke-dasharray="4 3.85"/><text x="194" y="290.8" class="s" font-family='"Liberation Sans", sans-serif' font-size="6.6" fill="#222" textLength="38.8" lengthAdjust="spacingAndGlyphs">50% survival</text><line x1="30.7" y1="302.5" x2="50.5" y2="302.5" stroke="#8aa4df" stroke-width="1" stroke-dasharray="1 1"/><text x="53" y="304.9" class="s" font-family='"Liberation Sans", sans-serif' font-size="6.6" fill="#222" textLength="38.4" lengthAdjust="spacingAndGlyphs">10% survival</text><line x1="44.9" y1="316.48" x2="44.9" y2="413.43" stroke="#bdbdbd" stroke-width="1"/><line x1="42.4" y1="413.43" x2="44.9" y2="413.43" stroke="#bdbdbd" stroke-width="0.8"/><text x="38.1" y="415.93" class="s" font-family='"Liberation Sans", sans-serif' font-size="7" text-anchor="end" fill="#222">-10</text><line x1="42.4" y1="406.5" x2="44.9" y2="406.5" stroke="#bdbdbd" stroke-width="0.8"/><text x="38.1" y="409" class="s" font-family='"Liberation Sans", sans-serif' font-size="7" text-anchor="end" fill="#222">0</text><line x1="42.4" y1="399.57" x2="44.9" y2="399.57" stroke="#bdbdbd" stroke-width="0.8"/><text x="38.1" y="402.07" class="s" font-family='"Liberation Sans", sans-serif' font-size="7" text-anchor="end" fill="#222">10</text><line x1="42.4" y1="392.65" x2="44.9" y2="392.65" stroke="#bdbdbd" stroke-width="0.8"/><text x="38.1" y="395.15" class="s" font-family='"Liberation Sans", sans-serif' font-size="7" text-anchor="end" fill="#222">20</text><line x1="42.4" y1="385.73" x2="44.9" y2="385.73" stroke="#bdbdbd" stroke-width="0.8"/><text x="38.1" y="388.23" class="s" font-family='"Liberation Sans", sans-serif' font-size="7" text-anchor="end" fill="#222">30</text><line x1="42.4" y1="378.8" x2="44.9" y2="378.8" stroke="#bdbdbd" stroke-width="0.8"/><text x="38.1" y="381.3" class="s" font-family='"Liberation Sans", sans-serif' font-size="7" text-anchor="end" fill="#222">40</text><line x1="42.4" y1="371.88" x2="44.9" y2="371.88" stroke="#bdbdbd" stroke-width="0.8"/><text x="38.1" y="374.38" class="s" font-family='"Liberation Sans", sans-serif' font-size="7" text-anchor="end" fill="#222">50</text><line x1="42.4" y1="364.95" x2="44.9" y2="364.95" stroke="#bdbdbd" stroke-width="0.8"/><text x="38.1" y="367.45" class="s" font-family='"Liberation Sans", sans-serif' font-size="7" text-anchor="end" fill="#222">60</text><line x1="42.4" y1="358.02" x2="44.9" y2="358.02" stroke="#bdbdbd" stroke-width="0.8"/><text x="38.1" y="360.52" class="s" font-family='"Liberation Sans", sans-serif' font-size="7" text-anchor="end" fill="#222">70</text><line x1="42.4" y1="351.1" x2="44.9" y2="351.1" stroke="#bdbdbd" stroke-width="0.8"/><text x="38.1" y="353.6" class="s" font-family='"Liberation Sans", sans-serif' font-size="7" text-anchor="end" fill="#222">80</text><line x1="42.4" y1="344.18" x2="44.9" y2="344.18" stroke="#bdbdbd" stroke-width="0.8"/><text x="38.1" y="346.68" class="s" font-family='"Liberation Sans", sans-serif' font-size="7" text-anchor="end" fill="#222">90</text><line x1="42.4" y1="337.25" x2="44.9" y2="337.25" stroke="#bdbdbd" stroke-width="0.8"/><text x="38.1" y="339.75" class="s" font-family='"Liberation Sans", sans-serif' font-size="7" text-anchor="end" fill="#222">100</text><line x1="42.4" y1="330.32" x2="44.9" y2="330.32" stroke="#bdbdbd" stroke-width="0.8"/><text x="38.1" y="332.82" class="s" font-family='"Liberation Sans", sans-serif' font-size="7" text-anchor="end" fill="#222">110</text><line x1="42.4" y1="323.4" x2="44.9" y2="323.4" stroke="#bdbdbd" stroke-width="0.8"/><text x="38.1" y="325.9" class="s" font-family='"Liberation Sans", sans-serif' font-size="7" text-anchor="end" fill="#222">120</text><line x1="42.4" y1="316.48" x2="44.9" y2="316.48" stroke="#bdbdbd" stroke-width="0.8"/><text x="38.1" y="318.98" class="s" font-family='"Liberation Sans", sans-serif' font-size="7" text-anchor="end" fill="#222">130</text><line x1="44.9" y1="406.5" x2="251.92" y2="406.5" stroke="#bdbdbd" stroke-width="1"/><line x1="44.9" y1="406.5" x2="44.9" y2="409" stroke="#bdbdbd" stroke-width="0.8"/><text x="44.9" y="430.9" class="s" font-family='"Liberation Sans", sans-serif' font-size="7" text-anchor="middle" fill="#222">0</text><line x1="63.72" y1="406.5" x2="63.72" y2="409" stroke="#bdbdbd" stroke-width="0.8"/><text x="63.72" y="430.9" class="s" font-family='"Liberation Sans", sans-serif' font-size="7" text-anchor="middle" fill="#222">0.001</text><line x1="82.54" y1="406.5" x2="82.54" y2="409" stroke="#bdbdbd" stroke-width="0.8"/><text x="82.54" y="430.9" class="s" font-family='"Liberation Sans", sans-serif' font-size="7" text-anchor="middle" fill="#222">0.002</text><line x1="101.36" y1="406.5" x2="101.36" y2="409" stroke="#bdbdbd" stroke-width="0.8"/><text x="101.36" y="430.9" class="s" font-family='"Liberation Sans", sans-serif' font-size="7" text-anchor="middle" fill="#222">0.004</text><line x1="120.18" y1="406.5" x2="120.18" y2="409" stroke="#bdbdbd" stroke-width="0.8"/><text x="120.18" y="430.9" class="s" font-family='"Liberation Sans", sans-serif' font-size="7" text-anchor="middle" fill="#222">0.008</text><line x1="139" y1="406.5" x2="139" y2="409" stroke="#bdbdbd" stroke-width="0.8"/><text x="139" y="430.9" class="s" font-family='"Liberation Sans", sans-serif' font-size="7" text-anchor="middle" fill="#222">0.016</text><line x1="157.82" y1="406.5" x2="157.82" y2="409" stroke="#bdbdbd" stroke-width="0.8"/><text x="157.82" y="430.9" class="s" font-family='"Liberation Sans", sans-serif' font-size="7" text-anchor="middle" fill="#222">0.032</text><line x1="176.64" y1="406.5" x2="176.64" y2="409" stroke="#bdbdbd" stroke-width="0.8"/><text x="176.64" y="430.9" class="s" font-family='"Liberation Sans", sans-serif' font-size="7" text-anchor="middle" fill="#222">0.063</text><line x1="195.46" y1="406.5" x2="195.46" y2="409" stroke="#bdbdbd" stroke-width="0.8"/><text x="195.46" y="430.9" class="s" font-family='"Liberation Sans", sans-serif' font-size="7" text-anchor="middle" fill="#222">0.125</text><line x1="214.28" y1="406.5" x2="214.28" y2="409" stroke="#bdbdbd" stroke-width="0.8"/><text x="214.28" y="430.9" class="s" font-family='"Liberation Sans", sans-serif' font-size="7" text-anchor="middle" fill="#222">0.25</text><line x1="233.1" y1="406.5" x2="233.1" y2="409" stroke="#bdbdbd" stroke-width="0.8"/><text x="233.1" y="430.9" class="s" font-family='"Liberation Sans", sans-serif' font-size="7" text-anchor="middle" fill="#222">0.5</text><line x1="251.92" y1="406.5" x2="251.92" y2="409" stroke="#bdbdbd" stroke-width="0.8"/><text x="251.92" y="430.9" class="s" font-family='"Liberation Sans", sans-serif' font-size="7" text-anchor="middle" fill="#222">1</text><text x="148.41" y="440.9" class="s" font-family='"Liberation Sans", sans-serif' font-size="7.4" font-weight="bold" text-anchor="middle" fill="#111" textLength="64.4" lengthAdjust="spacingAndGlyphs">Concentration (mM)</text><text transform="translate(22.3,364.7) rotate(-90)" class="s" font-family='"Liberation Sans", sans-serif' font-size="7.4" font-weight="bold" text-anchor="middle" fill="#111" textLength="31" lengthAdjust="spacingAndGlyphs">% survival</text><line x1="44.9" y1="399.57" x2="251.92" y2="399.57" stroke="#8aa4df" stroke-width="1.2" stroke-dasharray="1 1"/><line x1="44.9" y1="371.88" x2="251.92" y2="371.88" stroke="#2891cf" stroke-width="1.8" stroke-dasharray="4 3.85"/><path d="M44.9 330.32L44.9 343.07M43.1 330.32L46.7 330.32M43.1 343.07L46.7 343.07" stroke="#555" stroke-width="0.9" fill="none"/><path d="M63.72 319.25L63.72 355.25M61.92 319.25L65.52 319.25M61.92 355.25L65.52 355.25" stroke="#555" stroke-width="0.9" fill="none"/><path d="M82.54 328.94L82.54 362.18M80.74 328.94L84.34 328.94M80.74 362.18L84.34 362.18" stroke="#555" stroke-width="0.9" fill="none"/><path d="M101.36 319.94L101.36 337.94M99.56 319.94L103.16 319.94M99.56 337.94L103.16 337.94" stroke="#555" stroke-width="0.9" fill="none"/><path d="M120.18 335.17L120.18 376.03M118.38 335.17L121.98 335.17M118.38 376.03L121.98 376.03" stroke="#555" stroke-width="0.9" fill="none"/><path d="M139 381.09L139 394.04M137.2 381.09L140.8 381.09M137.2 394.04L140.8 394.04" stroke="#555" stroke-width="0.9" fill="none"/><path d="M157.82 356.64L157.82 399.92M156.02 356.64L159.62 356.64M156.02 399.92L159.62 399.92" stroke="#555" stroke-width="0.9" fill="none"/><path d="M176.64 392.17L176.64 406.5M174.84 392.17L178.44 392.17M174.84 406.5L178.44 406.5" stroke="#555" stroke-width="0.9" fill="none"/><path d="M195.46 398.88L195.46 408.58M193.66 398.88L197.26 398.88M193.66 408.58L197.26 408.58" stroke="#555" stroke-width="0.9" fill="none"/><path d="M214.28 398.88L214.28 408.58M212.48 398.88L216.08 398.88M212.48 408.58L216.08 408.58" stroke="#555" stroke-width="0.9" fill="none"/><path d="M233.1 398.88L233.1 408.58M231.3 398.88L234.9 398.88M231.3 408.58L234.9 408.58" stroke="#555" stroke-width="0.9" fill="none"/><path d="M251.92 396.81L251.92 407.88M250.12 396.81L253.72 396.81M250.12 407.88L253.72 407.88" stroke="#555" stroke-width="0.9" fill="none"/><polyline points="44.9,337.25 63.72,350.06 82.54,348.68 101.36,347.64 120.18,352.69 139,358.02 157.82,390.57 176.64,396.81 195.46,396.6 214.28,396.6 233.1,395.42 251.92,394.04" fill="none" stroke="#3a9b3a" stroke-width="1.7" stroke-linejoin="round"/><rect x="42.3" y="334.65" width="5.2" height="5.2" fill="#3a9b3a"/><rect x="61.12" y="347.46" width="5.2" height="5.2" fill="#3a9b3a"/><rect x="79.94" y="346.08" width="5.2" height="5.2" fill="#3a9b3a"/><rect x="98.76" y="345.04" width="5.2" height="5.2" fill="#3a9b3a"/><rect x="117.58" y="350.09" width="5.2" height="5.2" fill="#3a9b3a"/><rect x="136.4" y="355.42" width="5.2" height="5.2" fill="#3a9b3a"/><rect x="155.22" y="387.97" width="5.2" height="5.2" fill="#3a9b3a"/><rect x="174.04" y="394.2" width="5.2" height="5.2" fill="#3a9b3a"/><rect x="192.86" y="394" width="5.2" height="5.2" fill="#3a9b3a"/><rect x="211.68" y="394" width="5.2" height="5.2" fill="#3a9b3a"/><rect x="230.5" y="392.82" width="5.2" height="5.2" fill="#3a9b3a"/><rect x="249.32" y="391.44" width="5.2" height="5.2" fill="#3a9b3a"/><polyline points="44.9,337.25 63.72,335.17 82.54,347.64 101.36,351.1 120.18,351.79 139,360.8 157.82,364.95 176.64,376.72 195.46,383.3 214.28,380.19 233.1,389.53 251.92,394.38" fill="none" stroke="#1f6ec4" stroke-width="1.7" stroke-linejoin="round"/><path d="M44.9 334.31L47.7 339.49L42.1 339.49Z" fill="#1f6ec4"/><path d="M63.72 332.23L66.52 337.41L60.92 337.41Z" fill="#1f6ec4"/><path d="M82.54 344.7L85.34 349.88L79.74 349.88Z" fill="#1f6ec4"/><path d="M101.36 348.16L104.16 353.34L98.56 353.34Z" fill="#1f6ec4"/><path d="M120.18 348.85L122.98 354.03L117.38 354.03Z" fill="#1f6ec4"/><path d="M139 357.86L141.8 363.04L136.2 363.04Z" fill="#1f6ec4"/><path d="M157.82 362.01L160.62 367.19L155.02 367.19Z" fill="#1f6ec4"/><path d="M176.64 373.78L179.44 378.96L173.84 378.96Z" fill="#1f6ec4"/><path d="M195.46 380.36L198.26 385.54L192.66 385.54Z" fill="#1f6ec4"/><path d="M214.28 377.25L217.08 382.43L211.48 382.43Z" fill="#1f6ec4"/><path d="M233.1 386.59L235.9 391.77L230.3 391.77Z" fill="#1f6ec4"/><path d="M251.92 391.44L254.72 396.62L249.12 396.62Z" fill="#1f6ec4"/><polyline points="44.9,337.25 63.72,370.07 82.54,354.56 101.36,354.56 120.18,368.41 139,388.08 157.82,394.38 176.64,398.88 195.46,403.25 214.28,403.25 233.1,403.25 251.92,403.25" fill="none" stroke="#ee7430" stroke-width="1.7" stroke-linejoin="round"/><circle cx="44.9" cy="337.25" r="3" fill="#ee7430"/><circle cx="63.72" cy="370.07" r="3" fill="#ee7430"/><circle cx="82.54" cy="354.56" r="3" fill="#ee7430"/><circle cx="101.36" cy="354.56" r="3" fill="#ee7430"/><circle cx="120.18" cy="368.41" r="3" fill="#ee7430"/><circle cx="139" cy="388.08" r="3" fill="#ee7430"/><circle cx="157.82" cy="394.38" r="3" fill="#ee7430"/><circle cx="176.64" cy="398.88" r="3" fill="#ee7430"/><circle cx="195.46" cy="403.25" r="3" fill="#ee7430"/><circle cx="214.28" cy="403.25" r="3" fill="#ee7430"/><circle cx="233.1" cy="403.25" r="3" fill="#ee7430"/><circle cx="251.92" cy="403.25" r="3" fill="#ee7430"/><polyline points="44.9,337.25 63.72,337.94 82.54,337.25 101.36,328.94 120.18,359.06 139,387.11 157.82,400.61 176.64,400.96 195.46,401.65 214.28,400.96 233.1,400.96 251.92,398.19" fill="none" stroke="#8f8f8f" stroke-width="1.7" stroke-linejoin="round"/><path d="M44.9 334.65L47.5 337.25L44.9 339.85L42.3 337.25Z" fill="#8f8f8f"/><path d="M63.72 335.34L66.32 337.94L63.72 340.54L61.12 337.94Z" fill="#8f8f8f"/><path d="M82.54 334.65L85.14 337.25L82.54 339.85L79.94 337.25Z" fill="#8f8f8f"/><path d="M101.36 326.34L103.96 328.94L101.36 331.54L98.76 328.94Z" fill="#8f8f8f"/><path d="M120.18 356.46L122.78 359.06L120.18 361.66L117.58 359.06Z" fill="#8f8f8f"/><path d="M139 384.51L141.6 387.11L139 389.71L136.4 387.11Z" fill="#8f8f8f"/><path d="M157.82 398.01L160.42 400.61L157.82 403.21L155.22 400.61Z" fill="#8f8f8f"/><path d="M176.64 398.36L179.24 400.96L176.64 403.56L174.04 400.96Z" fill="#8f8f8f"/><path d="M195.46 399.05L198.06 401.65L195.46 404.25L192.86 401.65Z" fill="#8f8f8f"/><path d="M214.28 398.36L216.88 400.96L214.28 403.56L211.68 400.96Z" fill="#8f8f8f"/><path d="M233.1 398.36L235.7 400.96L233.1 403.56L230.5 400.96Z" fill="#8f8f8f"/><path d="M251.92 395.59L254.52 398.19L251.92 400.79L249.32 398.19Z" fill="#8f8f8f"/><polyline points="44.9,337.25 63.72,337.46 82.54,336.56 101.36,335.45 120.18,337.94 139,337.25 157.82,375.34 176.64,399.92 195.46,400.96 214.28,401.65 233.1,400.96 251.92,400.96" fill="none" stroke="#f7b500" stroke-width="1.7" stroke-linejoin="round"/><path d="M42.9 335.25L46.9 339.25M46.9 335.25L42.9 339.25" stroke="#f7b500" stroke-width="0.8" fill="none"/><path d="M61.72 335.46L65.72 339.46M65.72 335.46L61.72 339.46" stroke="#f7b500" stroke-width="0.8" fill="none"/><path d="M80.54 334.56L84.54 338.56M84.54 334.56L80.54 338.56" stroke="#f7b500" stroke-width="0.8" fill="none"/><path d="M99.36 333.45L103.36 337.45M103.36 333.45L99.36 337.45" stroke="#f7b500" stroke-width="0.8" fill="none"/><path d="M118.18 335.94L122.18 339.94M122.18 335.94L118.18 339.94" stroke="#f7b500" stroke-width="0.8" fill="none"/><path d="M137 335.25L141 339.25M141 335.25L137 339.25" stroke="#f7b500" stroke-width="0.8" fill="none"/><path d="M155.82 373.34L159.82 377.34M159.82 373.34L155.82 377.34" stroke="#f7b500" stroke-width="0.8" fill="none"/><path d="M174.64 397.92L178.64 401.92M178.64 397.92L174.64 401.92" stroke="#f7b500" stroke-width="0.8" fill="none"/><path d="M193.46 398.96L197.46 402.96M197.46 398.96L193.46 402.96" stroke="#f7b500" stroke-width="0.8" fill="none"/><path d="M212.28 399.65L216.28 403.65M216.28 399.65L212.28 403.65" stroke="#f7b500" stroke-width="0.8" fill="none"/><path d="M231.1 398.96L235.1 402.96M235.1 398.96L231.1 402.96" stroke="#f7b500" stroke-width="0.8" fill="none"/><path d="M249.92 398.96L253.92 402.96M253.92 398.96L249.92 402.96" stroke="#f7b500" stroke-width="0.8" fill="none"/><text x="133.9" y="468" class="l" font-family='"Liberation Serif", serif' font-size="15.4" text-anchor="middle" fill="#111">(c)</text></g>
<g><rect x="288.6" y="239.7" width="256.9" height="212.1" fill="none" stroke="#a3a3a3" stroke-width="1.5"/><text x="417.05" y="258.9" class="s" font-family='"Liberation Sans", sans-serif' font-weight="bold" font-size="12.5" text-anchor="middle" fill="#000" textLength="25.5" lengthAdjust="spacingAndGlyphs">NC 4</text><line x1="313.8" y1="274.6" x2="333.6" y2="274.6" stroke="#3a9b3a" stroke-width="1.6"/><rect x="321.1" y="272" width="5.2" height="5.2" fill="#3a9b3a"/><text x="336.1" y="277" class="s" font-family='"Liberation Sans", sans-serif' font-size="6.6" font-style="italic" fill="#222" textLength="27.7" lengthAdjust="spacingAndGlyphs">S. aureus</text><line x1="384.4" y1="274.6" x2="404.2" y2="274.6" stroke="#1f6ec4" stroke-width="1.6"/><path d="M394.3 271.66L397.1 276.84L391.5 276.84Z" fill="#1f6ec4"/><text x="406.7" y="277" class="s" font-family='"Liberation Sans", sans-serif' font-size="6.6" font-style="italic" fill="#222" textLength="30.2" lengthAdjust="spacingAndGlyphs">E. faecalis</text><line x1="454.8" y1="274.6" x2="474.6" y2="274.6" stroke="#ee7430" stroke-width="1.6"/><circle cx="464.7" cy="274.6" r="3" fill="#ee7430"/><text x="477.1" y="277" class="s" font-family='"Liberation Sans", sans-serif' font-size="6.6" font-style="italic" fill="#222" textLength="45.8" lengthAdjust="spacingAndGlyphs">K. pneumoniae</text><line x1="313.8" y1="288.6" x2="333.6" y2="288.6" stroke="#8f8f8f" stroke-width="1.6"/><path d="M323.7 286L326.3 288.6L323.7 291.2L321.1 288.6Z" fill="#8f8f8f"/><text x="336.1" y="291" class="s" font-family='"Liberation Sans", sans-serif' font-size="6.6" font-style="italic" fill="#222" textLength="41.8" lengthAdjust="spacingAndGlyphs">P. aeruginosa</text><line x1="384.4" y1="288.6" x2="404.2" y2="288.6" stroke="#f7b500" stroke-width="1.6"/><path d="M392.3 286.6L396.3 290.6M396.3 286.6L392.3 290.6" stroke="#f7b500" stroke-width="0.8" fill="none"/><text x="406.7" y="291" class="s" font-family='"Liberation Sans", sans-serif' font-size="6.6" font-style="italic" fill="#222" textLength="32" lengthAdjust="spacingAndGlyphs">C. albicans</text><line x1="454.8" y1="288.6" x2="474.6" y2="288.6" stroke="#2891cf" stroke-width="1.8" stroke-dasharray="4 3.85"/><text x="477.1" y="291" class="s" font-family='"Liberation Sans", sans-serif' font-size="6.6" fill="#222" textLength="38.8" lengthAdjust="spacingAndGlyphs">50% survival</text><line x1="313.8" y1="302.7" x2="333.6" y2="302.7" stroke="#8aa4df" stroke-width="1" stroke-dasharray="1 1"/><text x="336.1" y="305.1" class="s" font-family='"Liberation Sans", sans-serif' font-size="6.6" fill="#222" textLength="38.4" lengthAdjust="spacingAndGlyphs">10% survival</text><line x1="328" y1="316.67" x2="328" y2="413.62" stroke="#bdbdbd" stroke-width="1"/><line x1="325.5" y1="413.62" x2="328" y2="413.62" stroke="#bdbdbd" stroke-width="0.8"/><text x="321.2" y="416.12" class="s" font-family='"Liberation Sans", sans-serif' font-size="7" text-anchor="end" fill="#222">-10</text><line x1="325.5" y1="406.7" x2="328" y2="406.7" stroke="#bdbdbd" stroke-width="0.8"/><text x="321.2" y="409.2" class="s" font-family='"Liberation Sans", sans-serif' font-size="7" text-anchor="end" fill="#222">0</text><line x1="325.5" y1="399.77" x2="328" y2="399.77" stroke="#bdbdbd" stroke-width="0.8"/><text x="321.2" y="402.27" class="s" font-family='"Liberation Sans", sans-serif' font-size="7" text-anchor="end" fill="#222">10</text><line x1="325.5" y1="392.85" x2="328" y2="392.85" stroke="#bdbdbd" stroke-width="0.8"/><text x="321.2" y="395.35" class="s" font-family='"Liberation Sans", sans-serif' font-size="7" text-anchor="end" fill="#222">20</text><line x1="325.5" y1="385.93" x2="328" y2="385.93" stroke="#bdbdbd" stroke-width="0.8"/><text x="321.2" y="388.43" class="s" font-family='"Liberation Sans", sans-serif' font-size="7" text-anchor="end" fill="#222">30</text><line x1="325.5" y1="379" x2="328" y2="379" stroke="#bdbdbd" stroke-width="0.8"/><text x="321.2" y="381.5" class="s" font-family='"Liberation Sans", sans-serif' font-size="7" text-anchor="end" fill="#222">40</text><line x1="325.5" y1="372.07" x2="328" y2="372.07" stroke="#bdbdbd" stroke-width="0.8"/><text x="321.2" y="374.57" class="s" font-family='"Liberation Sans", sans-serif' font-size="7" text-anchor="end" fill="#222">50</text><line x1="325.5" y1="365.15" x2="328" y2="365.15" stroke="#bdbdbd" stroke-width="0.8"/><text x="321.2" y="367.65" class="s" font-family='"Liberation Sans", sans-serif' font-size="7" text-anchor="end" fill="#222">60</text><line x1="325.5" y1="358.22" x2="328" y2="358.22" stroke="#bdbdbd" stroke-width="0.8"/><text x="321.2" y="360.72" class="s" font-family='"Liberation Sans", sans-serif' font-size="7" text-anchor="end" fill="#222">70</text><line x1="325.5" y1="351.3" x2="328" y2="351.3" stroke="#bdbdbd" stroke-width="0.8"/><text x="321.2" y="353.8" class="s" font-family='"Liberation Sans", sans-serif' font-size="7" text-anchor="end" fill="#222">80</text><line x1="325.5" y1="344.38" x2="328" y2="344.38" stroke="#bdbdbd" stroke-width="0.8"/><text x="321.2" y="346.88" class="s" font-family='"Liberation Sans", sans-serif' font-size="7" text-anchor="end" fill="#222">90</text><line x1="325.5" y1="337.45" x2="328" y2="337.45" stroke="#bdbdbd" stroke-width="0.8"/><text x="321.2" y="339.95" class="s" font-family='"Liberation Sans", sans-serif' font-size="7" text-anchor="end" fill="#222">100</text><line x1="325.5" y1="330.52" x2="328" y2="330.52" stroke="#bdbdbd" stroke-width="0.8"/><text x="321.2" y="333.02" class="s" font-family='"Liberation Sans", sans-serif' font-size="7" text-anchor="end" fill="#222">110</text><line x1="325.5" y1="323.6" x2="328" y2="323.6" stroke="#bdbdbd" stroke-width="0.8"/><text x="321.2" y="326.1" class="s" font-family='"Liberation Sans", sans-serif' font-size="7" text-anchor="end" fill="#222">120</text><line x1="325.5" y1="316.67" x2="328" y2="316.67" stroke="#bdbdbd" stroke-width="0.8"/><text x="321.2" y="319.17" class="s" font-family='"Liberation Sans", sans-serif' font-size="7" text-anchor="end" fill="#222">130</text><line x1="328" y1="406.7" x2="535.02" y2="406.7" stroke="#bdbdbd" stroke-width="1"/><line x1="328" y1="406.7" x2="328" y2="409.2" stroke="#bdbdbd" stroke-width="0.8"/><text x="328" y="431.1" class="s" font-family='"Liberation Sans", sans-serif' font-size="7" text-anchor="middle" fill="#222">0</text><line x1="346.82" y1="406.7" x2="346.82" y2="409.2" stroke="#bdbdbd" stroke-width="0.8"/><text x="346.82" y="431.1" class="s" font-family='"Liberation Sans", sans-serif' font-size="7" text-anchor="middle" fill="#222">0.001</text><line x1="365.64" y1="406.7" x2="365.64" y2="409.2" stroke="#bdbdbd" stroke-width="0.8"/><text x="365.64" y="431.1" class="s" font-family='"Liberation Sans", sans-serif' font-size="7" text-anchor="middle" fill="#222">0.002</text><line x1="384.46" y1="406.7" x2="384.46" y2="409.2" stroke="#bdbdbd" stroke-width="0.8"/><text x="384.46" y="431.1" class="s" font-family='"Liberation Sans", sans-serif' font-size="7" text-anchor="middle" fill="#222">0.004</text><line x1="403.28" y1="406.7" x2="403.28" y2="409.2" stroke="#bdbdbd" stroke-width="0.8"/><text x="403.28" y="431.1" class="s" font-family='"Liberation Sans", sans-serif' font-size="7" text-anchor="middle" fill="#222">0.008</text><line x1="422.1" y1="406.7" x2="422.1" y2="409.2" stroke="#bdbdbd" stroke-width="0.8"/><text x="422.1" y="431.1" class="s" font-family='"Liberation Sans", sans-serif' font-size="7" text-anchor="middle" fill="#222">0.016</text><line x1="440.92" y1="406.7" x2="440.92" y2="409.2" stroke="#bdbdbd" stroke-width="0.8"/><text x="440.92" y="431.1" class="s" font-family='"Liberation Sans", sans-serif' font-size="7" text-anchor="middle" fill="#222">0.032</text><line x1="459.74" y1="406.7" x2="459.74" y2="409.2" stroke="#bdbdbd" stroke-width="0.8"/><text x="459.74" y="431.1" class="s" font-family='"Liberation Sans", sans-serif' font-size="7" text-anchor="middle" fill="#222">0.063</text><line x1="478.56" y1="406.7" x2="478.56" y2="409.2" stroke="#bdbdbd" stroke-width="0.8"/><text x="478.56" y="431.1" class="s" font-family='"Liberation Sans", sans-serif' font-size="7" text-anchor="middle" fill="#222">0.125</text><line x1="497.38" y1="406.7" x2="497.38" y2="409.2" stroke="#bdbdbd" stroke-width="0.8"/><text x="497.38" y="431.1" class="s" font-family='"Liberation Sans", sans-serif' font-size="7" text-anchor="middle" fill="#222">0.25</text><line x1="516.2" y1="406.7" x2="516.2" y2="409.2" stroke="#bdbdbd" stroke-width="0.8"/><text x="516.2" y="431.1" class="s" font-family='"Liberation Sans", sans-serif' font-size="7" text-anchor="middle" fill="#222">0.5</text><line x1="535.02" y1="406.7" x2="535.02" y2="409.2" stroke="#bdbdbd" stroke-width="0.8"/><text x="535.02" y="431.1" class="s" font-family='"Liberation Sans", sans-serif' font-size="7" text-anchor="middle" fill="#222">1</text><text x="431.51" y="441.1" class="s" font-family='"Liberation Sans", sans-serif' font-size="7.4" font-weight="bold" text-anchor="middle" fill="#111" textLength="64.4" lengthAdjust="spacingAndGlyphs">Concentration (mM)</text><text transform="translate(305.4,364.9) rotate(-90)" class="s" font-family='"Liberation Sans", sans-serif' font-size="7.4" font-weight="bold" text-anchor="middle" fill="#111" textLength="31" lengthAdjust="spacingAndGlyphs">% survival</text><line x1="328" y1="399.77" x2="535.02" y2="399.77" stroke="#8aa4df" stroke-width="1.2" stroke-dasharray="1 1"/><line x1="328" y1="372.07" x2="535.02" y2="372.07" stroke="#2891cf" stroke-width="1.8" stroke-dasharray="4 3.85"/><path d="M328 333.29L328 342.3M326.2 333.29L329.8 333.29M326.2 342.3L329.8 342.3" stroke="#555" stroke-width="0.9" fill="none"/><path d="M346.82 335.37L346.82 359.13M345.02 335.37L348.62 335.37M345.02 359.13L348.62 359.13" stroke="#555" stroke-width="0.9" fill="none"/><path d="M365.64 331.22L365.64 361M363.84 331.22L367.44 331.22M363.84 361L367.44 361" stroke="#555" stroke-width="0.9" fill="none"/><path d="M384.46 330.18L384.46 337.45M382.66 330.18L386.26 330.18M382.66 337.45L386.26 337.45" stroke="#555" stroke-width="0.9" fill="none"/><path d="M403.28 330.18L403.28 355.11M401.48 330.18L405.08 330.18M401.48 355.11L405.08 355.11" stroke="#555" stroke-width="0.9" fill="none"/><path d="M422.1 333.29L422.1 356.15M420.3 333.29L423.9 333.29M420.3 356.15L423.9 356.15" stroke="#555" stroke-width="0.9" fill="none"/><path d="M440.92 334.68L440.92 360.3M439.12 334.68L442.72 334.68M439.12 360.3L442.72 360.3" stroke="#555" stroke-width="0.9" fill="none"/><path d="M459.74 345.07L459.74 370.14M457.94 345.07L461.54 345.07M457.94 370.14L461.54 370.14" stroke="#555" stroke-width="0.9" fill="none"/><path d="M478.56 350.61L478.56 367.92M476.76 350.61L480.36 350.61M476.76 367.92L480.36 367.92" stroke="#555" stroke-width="0.9" fill="none"/><path d="M478.56 382.12L478.56 397.35M476.76 382.12L480.36 382.12M476.76 397.35L480.36 397.35" stroke="#555" stroke-width="0.9" fill="none"/><path d="M497.38 361.69L497.38 367.92M495.58 361.69L499.18 361.69M495.58 367.92L499.18 367.92" stroke="#555" stroke-width="0.9" fill="none"/><path d="M516.2 372.28L516.2 379.69M514.4 372.28L518 372.28M514.4 379.69L518 379.69" stroke="#555" stroke-width="0.9" fill="none"/><path d="M535.02 383.85L535.02 389.73M533.22 383.85L536.82 383.85M533.22 389.73L536.82 389.73" stroke="#555" stroke-width="0.9" fill="none"/><polyline points="328,337.45 346.82,355.11 365.64,355.73 384.46,355.45 403.28,350.75 422.1,354.49 440.92,346.8 459.74,350.61 478.56,356.15 497.38,376.92 516.2,394.24 535.02,393.54" fill="none" stroke="#3a9b3a" stroke-width="1.7" stroke-linejoin="round"/><rect x="325.4" y="334.85" width="5.2" height="5.2" fill="#3a9b3a"/><rect x="344.22" y="352.51" width="5.2" height="5.2" fill="#3a9b3a"/><rect x="363.04" y="353.13" width="5.2" height="5.2" fill="#3a9b3a"/><rect x="381.86" y="352.85" width="5.2" height="5.2" fill="#3a9b3a"/><rect x="400.68" y="348.15" width="5.2" height="5.2" fill="#3a9b3a"/><rect x="419.5" y="351.89" width="5.2" height="5.2" fill="#3a9b3a"/><rect x="438.32" y="344.2" width="5.2" height="5.2" fill="#3a9b3a"/><rect x="457.14" y="348.01" width="5.2" height="5.2" fill="#3a9b3a"/><rect x="475.96" y="353.55" width="5.2" height="5.2" fill="#3a9b3a"/><rect x="494.78" y="374.32" width="5.2" height="5.2" fill="#3a9b3a"/><rect x="513.6" y="391.63" width="5.2" height="5.2" fill="#3a9b3a"/><rect x="532.42" y="390.94" width="5.2" height="5.2" fill="#3a9b3a"/><polyline points="328,337.45 346.82,341.61 365.64,336.06 384.46,334.13 403.28,335.16 422.1,341.12 440.92,346.8 459.74,354.76 478.56,362.03 497.38,379.69 516.2,383.85 535.02,395.83" fill="none" stroke="#1f6ec4" stroke-width="1.7" stroke-linejoin="round"/><path d="M328 334.51L330.8 339.69L325.2 339.69Z" fill="#1f6ec4"/><path d="M346.82 338.67L349.62 343.85L344.02 343.85Z" fill="#1f6ec4"/><path d="M365.64 333.12L368.44 338.31L362.84 338.31Z" fill="#1f6ec4"/><path d="M384.46 331.19L387.26 336.37L381.66 336.37Z" fill="#1f6ec4"/><path d="M403.28 332.22L406.08 337.4L400.48 337.4Z" fill="#1f6ec4"/><path d="M422.1 338.18L424.9 343.36L419.3 343.36Z" fill="#1f6ec4"/><path d="M440.92 343.86L443.72 349.04L438.12 349.04Z" fill="#1f6ec4"/><path d="M459.74 351.82L462.54 357L456.94 357Z" fill="#1f6ec4"/><path d="M478.56 359.09L481.36 364.27L475.76 364.27Z" fill="#1f6ec4"/><path d="M497.38 376.75L500.18 381.93L494.58 381.93Z" fill="#1f6ec4"/><path d="M516.2 380.91L519 386.09L513.4 386.09Z" fill="#1f6ec4"/><path d="M535.02 392.89L537.82 398.07L532.22 398.07Z" fill="#1f6ec4"/><polyline points="328,337.45 346.82,348.74 365.64,349.71 384.46,351.3 403.28,349.71 422.1,353.1 440.92,353.38 459.74,350.61 478.56,356.84 497.38,364.67 516.2,376.23 535.02,386.89" fill="none" stroke="#ee7430" stroke-width="1.7" stroke-linejoin="round"/><circle cx="328" cy="337.45" r="3" fill="#ee7430"/><circle cx="346.82" cy="348.74" r="3" fill="#ee7430"/><circle cx="365.64" cy="349.71" r="3" fill="#ee7430"/><circle cx="384.46" cy="351.3" r="3" fill="#ee7430"/><circle cx="403.28" cy="349.71" r="3" fill="#ee7430"/><circle cx="422.1" cy="353.1" r="3" fill="#ee7430"/><circle cx="440.92" cy="353.38" r="3" fill="#ee7430"/><circle cx="459.74" cy="350.61" r="3" fill="#ee7430"/><circle cx="478.56" cy="356.84" r="3" fill="#ee7430"/><circle cx="497.38" cy="364.67" r="3" fill="#ee7430"/><circle cx="516.2" cy="376.23" r="3" fill="#ee7430"/><circle cx="535.02" cy="386.89" r="3" fill="#ee7430"/><polyline points="328,337.45 346.82,337.45 365.64,338.14 384.46,355.73 403.28,366.67 422.1,379.69 440.92,381.08 459.74,387.52 478.56,400.61 497.38,400.61 516.2,400.61 535.02,399.98" fill="none" stroke="#8f8f8f" stroke-width="1.7" stroke-linejoin="round"/><path d="M328 334.85L330.6 337.45L328 340.05L325.4 337.45Z" fill="#8f8f8f"/><path d="M346.82 334.85L349.42 337.45L346.82 340.05L344.22 337.45Z" fill="#8f8f8f"/><path d="M365.64 335.54L368.24 338.14L365.64 340.74L363.04 338.14Z" fill="#8f8f8f"/><path d="M384.46 353.13L387.06 355.73L384.46 358.33L381.86 355.73Z" fill="#8f8f8f"/><path d="M403.28 364.07L405.88 366.67L403.28 369.27L400.68 366.67Z" fill="#8f8f8f"/><path d="M422.1 377.09L424.7 379.69L422.1 382.29L419.5 379.69Z" fill="#8f8f8f"/><path d="M440.92 378.48L443.52 381.08L440.92 383.68L438.32 381.08Z" fill="#8f8f8f"/><path d="M459.74 384.92L462.34 387.52L459.74 390.12L457.14 387.52Z" fill="#8f8f8f"/><path d="M478.56 398.01L481.16 400.61L478.56 403.21L475.96 400.61Z" fill="#8f8f8f"/><path d="M497.38 398.01L499.98 400.61L497.38 403.21L494.78 400.61Z" fill="#8f8f8f"/><path d="M516.2 398.01L518.8 400.61L516.2 403.21L513.6 400.61Z" fill="#8f8f8f"/><path d="M535.02 397.38L537.62 399.98L535.02 402.58L532.42 399.98Z" fill="#8f8f8f"/><polyline points="328,337.45 346.82,344.38 365.64,338.83 384.46,339.74 403.28,340.22 422.1,344.38 440.92,347.84 459.74,357.05 478.56,389.73 497.38,399.77 516.2,401.85 535.02,401.85" fill="none" stroke="#f7b500" stroke-width="1.7" stroke-linejoin="round"/><path d="M326 335.45L330 339.45M330 335.45L326 339.45" stroke="#f7b500" stroke-width="0.8" fill="none"/><path d="M344.82 342.38L348.82 346.38M348.82 342.38L344.82 346.38" stroke="#f7b500" stroke-width="0.8" fill="none"/><path d="M363.64 336.83L367.64 340.83M367.64 336.83L363.64 340.83" stroke="#f7b500" stroke-width="0.8" fill="none"/><path d="M382.46 337.74L386.46 341.74M386.46 337.74L382.46 341.74" stroke="#f7b500" stroke-width="0.8" fill="none"/><path d="M401.28 338.22L405.28 342.22M405.28 338.22L401.28 342.22" stroke="#f7b500" stroke-width="0.8" fill="none"/><path d="M420.1 342.38L424.1 346.38M424.1 342.38L420.1 346.38" stroke="#f7b500" stroke-width="0.8" fill="none"/><path d="M438.92 345.84L442.92 349.84M442.92 345.84L438.92 349.84" stroke="#f7b500" stroke-width="0.8" fill="none"/><path d="M457.74 355.05L461.74 359.05M461.74 355.05L457.74 359.05" stroke="#f7b500" stroke-width="0.8" fill="none"/><path d="M476.56 387.73L480.56 391.73M480.56 387.73L476.56 391.73" stroke="#f7b500" stroke-width="0.8" fill="none"/><path d="M495.38 397.77L499.38 401.77M499.38 397.77L495.38 401.77" stroke="#f7b500" stroke-width="0.8" fill="none"/><path d="M514.2 399.85L518.2 403.85M518.2 399.85L514.2 403.85" stroke="#f7b500" stroke-width="0.8" fill="none"/><path d="M533.02 399.85L537.02 403.85M537.02 399.85L533.02 403.85" stroke="#f7b500" stroke-width="0.8" fill="none"/><text x="417.05" y="467.9" class="l" font-family='"Liberation Serif", serif' font-size="15.4" text-anchor="middle" fill="#111">(d)</text></g>
<g><rect x="5.5" y="474.5" width="256.8" height="212.4" fill="none" stroke="#a3a3a3" stroke-width="1.5"/><text x="133.9" y="493.7" class="s" font-family='"Liberation Sans", sans-serif' font-weight="bold" font-size="12.5" text-anchor="middle" fill="#000" textLength="25.5" lengthAdjust="spacingAndGlyphs">NC 5</text><line x1="30.7" y1="509.4" x2="50.5" y2="509.4" stroke="#3a9b3a" stroke-width="1.6"/><rect x="38" y="506.8" width="5.2" height="5.2" fill="#3a9b3a"/><text x="53" y="511.8" class="s" font-family='"Liberation Sans", sans-serif' font-size="6.6" font-style="italic" fill="#222" textLength="27.7" lengthAdjust="spacingAndGlyphs">S. aureus</text><line x1="101.3" y1="509.4" x2="121.1" y2="509.4" stroke="#1f6ec4" stroke-width="1.6"/><path d="M111.2 506.46L114 511.64L108.4 511.64Z" fill="#1f6ec4"/><text x="123.6" y="511.8" class="s" font-family='"Liberation Sans", sans-serif' font-size="6.6" font-style="italic" fill="#222" textLength="30.2" lengthAdjust="spacingAndGlyphs">E. faecalis</text><line x1="171.7" y1="509.4" x2="191.5" y2="509.4" stroke="#ee7430" stroke-width="1.6"/><circle cx="181.6" cy="509.4" r="3" fill="#ee7430"/><text x="194" y="511.8" class="s" font-family='"Liberation Sans", sans-serif' font-size="6.6" font-style="italic" fill="#222" textLength="45.8" lengthAdjust="spacingAndGlyphs">K. pneumoniae</text><line x1="30.7" y1="523.4" x2="50.5" y2="523.4" stroke="#8f8f8f" stroke-width="1.6"/><path d="M40.6 520.8L43.2 523.4L40.6 526L38 523.4Z" fill="#8f8f8f"/><text x="53" y="525.8" class="s" font-family='"Liberation Sans", sans-serif' font-size="6.6" font-style="italic" fill="#222" textLength="41.8" lengthAdjust="spacingAndGlyphs">P. aeruginosa</text><line x1="101.3" y1="523.4" x2="121.1" y2="523.4" stroke="#f7b500" stroke-width="1.6"/><path d="M109.2 521.4L113.2 525.4M113.2 521.4L109.2 525.4" stroke="#f7b500" stroke-width="0.8" fill="none"/><text x="123.6" y="525.8" class="s" font-family='"Liberation Sans", sans-serif' font-size="6.6" font-style="italic" fill="#222" textLength="32" lengthAdjust="spacingAndGlyphs">C. albicans</text><line x1="171.7" y1="523.4" x2="191.5" y2="523.4" stroke="#2891cf" stroke-width="1.8" stroke-dasharray="4 3.85"/><text x="194" y="525.8" class="s" font-family='"Liberation Sans", sans-serif' font-size="6.6" fill="#222" textLength="38.8" lengthAdjust="spacingAndGlyphs">50% survival</text><line x1="30.7" y1="537.5" x2="50.5" y2="537.5" stroke="#8aa4df" stroke-width="1" stroke-dasharray="1 1"/><text x="53" y="539.9" class="s" font-family='"Liberation Sans", sans-serif' font-size="6.6" fill="#222" textLength="38.4" lengthAdjust="spacingAndGlyphs">10% survival</text><line x1="44.9" y1="551.48" x2="44.9" y2="648.42" stroke="#bdbdbd" stroke-width="1"/><line x1="42.4" y1="648.42" x2="44.9" y2="648.42" stroke="#bdbdbd" stroke-width="0.8"/><text x="38.1" y="650.92" class="s" font-family='"Liberation Sans", sans-serif' font-size="7" text-anchor="end" fill="#222">-10</text><line x1="42.4" y1="641.5" x2="44.9" y2="641.5" stroke="#bdbdbd" stroke-width="0.8"/><text x="38.1" y="644" class="s" font-family='"Liberation Sans", sans-serif' font-size="7" text-anchor="end" fill="#222">0</text><line x1="42.4" y1="634.58" x2="44.9" y2="634.58" stroke="#bdbdbd" stroke-width="0.8"/><text x="38.1" y="637.08" class="s" font-family='"Liberation Sans", sans-serif' font-size="7" text-anchor="end" fill="#222">10</text><line x1="42.4" y1="627.65" x2="44.9" y2="627.65" stroke="#bdbdbd" stroke-width="0.8"/><text x="38.1" y="630.15" class="s" font-family='"Liberation Sans", sans-serif' font-size="7" text-anchor="end" fill="#222">20</text><line x1="42.4" y1="620.73" x2="44.9" y2="620.73" stroke="#bdbdbd" stroke-width="0.8"/><text x="38.1" y="623.23" class="s" font-family='"Liberation Sans", sans-serif' font-size="7" text-anchor="end" fill="#222">30</text><line x1="42.4" y1="613.8" x2="44.9" y2="613.8" stroke="#bdbdbd" stroke-width="0.8"/><text x="38.1" y="616.3" class="s" font-family='"Liberation Sans", sans-serif' font-size="7" text-anchor="end" fill="#222">40</text><line x1="42.4" y1="606.88" x2="44.9" y2="606.88" stroke="#bdbdbd" stroke-width="0.8"/><text x="38.1" y="609.38" class="s" font-family='"Liberation Sans", sans-serif' font-size="7" text-anchor="end" fill="#222">50</text><line x1="42.4" y1="599.95" x2="44.9" y2="599.95" stroke="#bdbdbd" stroke-width="0.8"/><text x="38.1" y="602.45" class="s" font-family='"Liberation Sans", sans-serif' font-size="7" text-anchor="end" fill="#222">60</text><line x1="42.4" y1="593.02" x2="44.9" y2="593.02" stroke="#bdbdbd" stroke-width="0.8"/><text x="38.1" y="595.52" class="s" font-family='"Liberation Sans", sans-serif' font-size="7" text-anchor="end" fill="#222">70</text><line x1="42.4" y1="586.1" x2="44.9" y2="586.1" stroke="#bdbdbd" stroke-width="0.8"/><text x="38.1" y="588.6" class="s" font-family='"Liberation Sans", sans-serif' font-size="7" text-anchor="end" fill="#222">80</text><line x1="42.4" y1="579.17" x2="44.9" y2="579.17" stroke="#bdbdbd" stroke-width="0.8"/><text x="38.1" y="581.67" class="s" font-family='"Liberation Sans", sans-serif' font-size="7" text-anchor="end" fill="#222">90</text><line x1="42.4" y1="572.25" x2="44.9" y2="572.25" stroke="#bdbdbd" stroke-width="0.8"/><text x="38.1" y="574.75" class="s" font-family='"Liberation Sans", sans-serif' font-size="7" text-anchor="end" fill="#222">100</text><line x1="42.4" y1="565.33" x2="44.9" y2="565.33" stroke="#bdbdbd" stroke-width="0.8"/><text x="38.1" y="567.83" class="s" font-family='"Liberation Sans", sans-serif' font-size="7" text-anchor="end" fill="#222">110</text><line x1="42.4" y1="558.4" x2="44.9" y2="558.4" stroke="#bdbdbd" stroke-width="0.8"/><text x="38.1" y="560.9" class="s" font-family='"Liberation Sans", sans-serif' font-size="7" text-anchor="end" fill="#222">120</text><line x1="42.4" y1="551.48" x2="44.9" y2="551.48" stroke="#bdbdbd" stroke-width="0.8"/><text x="38.1" y="553.98" class="s" font-family='"Liberation Sans", sans-serif' font-size="7" text-anchor="end" fill="#222">130</text><line x1="44.9" y1="641.5" x2="251.92" y2="641.5" stroke="#bdbdbd" stroke-width="1"/><line x1="44.9" y1="641.5" x2="44.9" y2="644" stroke="#bdbdbd" stroke-width="0.8"/><text x="44.9" y="665.9" class="s" font-family='"Liberation Sans", sans-serif' font-size="7" text-anchor="middle" fill="#222">0</text><line x1="63.72" y1="641.5" x2="63.72" y2="644" stroke="#bdbdbd" stroke-width="0.8"/><text x="63.72" y="665.9" class="s" font-family='"Liberation Sans", sans-serif' font-size="7" text-anchor="middle" fill="#222">0.001</text><line x1="82.54" y1="641.5" x2="82.54" y2="644" stroke="#bdbdbd" stroke-width="0.8"/><text x="82.54" y="665.9" class="s" font-family='"Liberation Sans", sans-serif' font-size="7" text-anchor="middle" fill="#222">0.002</text><line x1="101.36" y1="641.5" x2="101.36" y2="644" stroke="#bdbdbd" stroke-width="0.8"/><text x="101.36" y="665.9" class="s" font-family='"Liberation Sans", sans-serif' font-size="7" text-anchor="middle" fill="#222">0.004</text><line x1="120.18" y1="641.5" x2="120.18" y2="644" stroke="#bdbdbd" stroke-width="0.8"/><text x="120.18" y="665.9" class="s" font-family='"Liberation Sans", sans-serif' font-size="7" text-anchor="middle" fill="#222">0.008</text><line x1="139" y1="641.5" x2="139" y2="644" stroke="#bdbdbd" stroke-width="0.8"/><text x="139" y="665.9" class="s" font-family='"Liberation Sans", sans-serif' font-size="7" text-anchor="middle" fill="#222">0.016</text><line x1="157.82" y1="641.5" x2="157.82" y2="644" stroke="#bdbdbd" stroke-width="0.8"/><text x="157.82" y="665.9" class="s" font-family='"Liberation Sans", sans-serif' font-size="7" text-anchor="middle" fill="#222">0.032</text><line x1="176.64" y1="641.5" x2="176.64" y2="644" stroke="#bdbdbd" stroke-width="0.8"/><text x="176.64" y="665.9" class="s" font-family='"Liberation Sans", sans-serif' font-size="7" text-anchor="middle" fill="#222">0.063</text><line x1="195.46" y1="641.5" x2="195.46" y2="644" stroke="#bdbdbd" stroke-width="0.8"/><text x="195.46" y="665.9" class="s" font-family='"Liberation Sans", sans-serif' font-size="7" text-anchor="middle" fill="#222">0.125</text><line x1="214.28" y1="641.5" x2="214.28" y2="644" stroke="#bdbdbd" stroke-width="0.8"/><text x="214.28" y="665.9" class="s" font-family='"Liberation Sans", sans-serif' font-size="7" text-anchor="middle" fill="#222">0.25</text><line x1="233.1" y1="641.5" x2="233.1" y2="644" stroke="#bdbdbd" stroke-width="0.8"/><text x="233.1" y="665.9" class="s" font-family='"Liberation Sans", sans-serif' font-size="7" text-anchor="middle" fill="#222">0.5</text><line x1="251.92" y1="641.5" x2="251.92" y2="644" stroke="#bdbdbd" stroke-width="0.8"/><text x="251.92" y="665.9" class="s" font-family='"Liberation Sans", sans-serif' font-size="7" text-anchor="middle" fill="#222">1</text><text x="148.41" y="675.9" class="s" font-family='"Liberation Sans", sans-serif' font-size="7.4" font-weight="bold" text-anchor="middle" fill="#111" textLength="64.4" lengthAdjust="spacingAndGlyphs">Concentration (mM)</text><text transform="translate(22.3,599.7) rotate(-90)" class="s" font-family='"Liberation Sans", sans-serif' font-size="7.4" font-weight="bold" text-anchor="middle" fill="#111" textLength="31" lengthAdjust="spacingAndGlyphs">% survival</text><line x1="44.9" y1="634.58" x2="251.92" y2="634.58" stroke="#8aa4df" stroke-width="1.2" stroke-dasharray="1 1"/><line x1="44.9" y1="606.88" x2="251.92" y2="606.88" stroke="#2891cf" stroke-width="1.8" stroke-dasharray="4 3.85"/><path d="M44.9 565.33L44.9 579.17M43.1 565.33L46.7 565.33M43.1 579.17L46.7 579.17" stroke="#555" stroke-width="0.9" fill="none"/><path d="M63.72 561.86L63.72 594.06M61.92 561.86L65.52 561.86M61.92 594.06L65.52 594.06" stroke="#555" stroke-width="0.9" fill="none"/><path d="M82.54 566.02L82.54 585.06M80.74 566.02L84.34 566.02M80.74 585.06L84.34 585.06" stroke="#555" stroke-width="0.9" fill="none"/><path d="M101.36 560.06L101.36 592.06M99.56 560.06L103.16 560.06M99.56 592.06L103.16 592.06" stroke="#555" stroke-width="0.9" fill="none"/><path d="M120.18 563.25L120.18 604.11M118.38 563.25L121.98 563.25M118.38 604.11L121.98 604.11" stroke="#555" stroke-width="0.9" fill="none"/><path d="M139 558.05L139 605.07M137.2 558.05L140.8 558.05M137.2 605.07L140.8 605.07" stroke="#555" stroke-width="0.9" fill="none"/><path d="M157.82 561.17L157.82 578.48M156.02 561.17L159.62 561.17M156.02 578.48L159.62 578.48" stroke="#555" stroke-width="0.9" fill="none"/><path d="M157.82 589.56L157.82 604.11M156.02 589.56L159.62 589.56M156.02 604.11L159.62 604.11" stroke="#555" stroke-width="0.9" fill="none"/><path d="M176.64 569L176.64 582.78M174.84 569L178.44 569M174.84 582.78L178.44 582.78" stroke="#555" stroke-width="0.9" fill="none"/><path d="M176.64 591.64L176.64 605.01M174.84 591.64L178.44 591.64M174.84 605.01L178.44 605.01" stroke="#555" stroke-width="0.9" fill="none"/><path d="M195.46 572.25L195.46 581.95M193.66 572.25L197.26 572.25M193.66 581.95L197.26 581.95" stroke="#555" stroke-width="0.9" fill="none"/><path d="M195.46 607.22L195.46 621.63M193.66 607.22L197.26 607.22M193.66 621.63L197.26 621.63" stroke="#555" stroke-width="0.9" fill="none"/><path d="M214.28 598.57L214.28 611.72M212.48 598.57L216.08 598.57M212.48 611.72L216.08 611.72" stroke="#555" stroke-width="0.9" fill="none"/><path d="M214.28 612.76L214.28 623.84M212.48 612.76L216.08 612.76M212.48 623.84L216.08 623.84" stroke="#555" stroke-width="0.9" fill="none"/><path d="M233.1 613.38L233.1 642.75M231.3 613.38L234.9 613.38M231.3 642.75L234.9 642.75" stroke="#555" stroke-width="0.9" fill="none"/><path d="M251.92 620.73L251.92 643.58M250.12 620.73L253.72 620.73M250.12 643.58L253.72 643.58" stroke="#555" stroke-width="0.9" fill="none"/><polyline points="44.9,572.25 63.72,579.17 82.54,579.17 101.36,587.69 120.18,595.1 139,597.66 157.82,616.57 176.64,626.75 195.46,626.75 214.28,626.75 233.1,627.86 251.92,629.03" fill="none" stroke="#3a9b3a" stroke-width="1.7" stroke-linejoin="round"/><rect x="42.3" y="569.65" width="5.2" height="5.2" fill="#3a9b3a"/><rect x="61.12" y="576.57" width="5.2" height="5.2" fill="#3a9b3a"/><rect x="79.94" y="576.57" width="5.2" height="5.2" fill="#3a9b3a"/><rect x="98.76" y="585.09" width="5.2" height="5.2" fill="#3a9b3a"/><rect x="117.58" y="592.5" width="5.2" height="5.2" fill="#3a9b3a"/><rect x="136.4" y="595.06" width="5.2" height="5.2" fill="#3a9b3a"/><rect x="155.22" y="613.97" width="5.2" height="5.2" fill="#3a9b3a"/><rect x="174.04" y="624.15" width="5.2" height="5.2" fill="#3a9b3a"/><rect x="192.86" y="624.15" width="5.2" height="5.2" fill="#3a9b3a"/><rect x="211.68" y="624.15" width="5.2" height="5.2" fill="#3a9b3a"/><rect x="230.5" y="625.26" width="5.2" height="5.2" fill="#3a9b3a"/><rect x="249.32" y="626.43" width="5.2" height="5.2" fill="#3a9b3a"/><polyline points="44.9,572.25 63.72,569.48 82.54,573.63 101.36,580.08 120.18,589.56 139,593.44 157.82,608.26 176.64,615.67 195.46,616.57 214.28,622.8 233.1,625.36 251.92,630.42" fill="none" stroke="#1f6ec4" stroke-width="1.7" stroke-linejoin="round"/><path d="M44.9 569.31L47.7 574.49L42.1 574.49Z" fill="#1f6ec4"/><path d="M63.72 566.54L66.52 571.72L60.92 571.72Z" fill="#1f6ec4"/><path d="M82.54 570.69L85.34 575.88L79.74 575.88Z" fill="#1f6ec4"/><path d="M101.36 577.14L104.16 582.32L98.56 582.32Z" fill="#1f6ec4"/><path d="M120.18 586.62L122.98 591.8L117.38 591.8Z" fill="#1f6ec4"/><path d="M139 590.5L141.8 595.68L136.2 595.68Z" fill="#1f6ec4"/><path d="M157.82 605.32L160.62 610.5L155.02 610.5Z" fill="#1f6ec4"/><path d="M176.64 612.73L179.44 617.91L173.84 617.91Z" fill="#1f6ec4"/><path d="M195.46 613.63L198.26 618.81L192.66 618.81Z" fill="#1f6ec4"/><path d="M214.28 619.86L217.08 625.04L211.48 625.04Z" fill="#1f6ec4"/><path d="M233.1 622.42L235.9 627.6L230.3 627.6Z" fill="#1f6ec4"/><path d="M251.92 627.48L254.72 632.66L249.12 632.66Z" fill="#1f6ec4"/><polyline points="44.9,572.25 63.72,587.49 82.54,574.67 101.36,578.69 120.18,581.95 139,589.56 157.82,595.79 176.64,597.87 195.46,614.08 214.28,621.63 233.1,638.73 251.92,638.73" fill="none" stroke="#ee7430" stroke-width="1.7" stroke-linejoin="round"/><circle cx="44.9" cy="572.25" r="3" fill="#ee7430"/><circle cx="63.72" cy="587.49" r="3" fill="#ee7430"/><circle cx="82.54" cy="574.67" r="3" fill="#ee7430"/><circle cx="101.36" cy="578.69" r="3" fill="#ee7430"/><circle cx="120.18" cy="581.95" r="3" fill="#ee7430"/><circle cx="139" cy="589.56" r="3" fill="#ee7430"/><circle cx="157.82" cy="595.79" r="3" fill="#ee7430"/><circle cx="176.64" cy="597.87" r="3" fill="#ee7430"/><circle cx="195.46" cy="614.08" r="3" fill="#ee7430"/><circle cx="214.28" cy="621.63" r="3" fill="#ee7430"/><circle cx="233.1" cy="638.73" r="3" fill="#ee7430"/><circle cx="251.92" cy="638.73" r="3" fill="#ee7430"/><polyline points="44.9,572.25 63.72,576.06 82.54,577.1 101.36,580.56 120.18,590.67 139,592.47 157.82,599.95 176.64,607.22 195.46,618.3 214.28,620.03 233.1,620.52 251.92,635.96" fill="none" stroke="#8f8f8f" stroke-width="1.7" stroke-linejoin="round"/><path d="M44.9 569.65L47.5 572.25L44.9 574.85L42.3 572.25Z" fill="#8f8f8f"/><path d="M63.72 573.46L66.32 576.06L63.72 578.66L61.12 576.06Z" fill="#8f8f8f"/><path d="M82.54 574.5L85.14 577.1L82.54 579.7L79.94 577.1Z" fill="#8f8f8f"/><path d="M101.36 577.96L103.96 580.56L101.36 583.16L98.76 580.56Z" fill="#8f8f8f"/><path d="M120.18 588.07L122.78 590.67L120.18 593.27L117.58 590.67Z" fill="#8f8f8f"/><path d="M139 589.87L141.6 592.47L139 595.07L136.4 592.47Z" fill="#8f8f8f"/><path d="M157.82 597.35L160.42 599.95L157.82 602.55L155.22 599.95Z" fill="#8f8f8f"/><path d="M176.64 604.62L179.24 607.22L176.64 609.82L174.04 607.22Z" fill="#8f8f8f"/><path d="M195.46 615.7L198.06 618.3L195.46 620.9L192.86 618.3Z" fill="#8f8f8f"/><path d="M214.28 617.43L216.88 620.03L214.28 622.63L211.68 620.03Z" fill="#8f8f8f"/><path d="M233.1 617.92L235.7 620.52L233.1 623.12L230.5 620.52Z" fill="#8f8f8f"/><path d="M251.92 633.36L254.52 635.96L251.92 638.56L249.32 635.96Z" fill="#8f8f8f"/><polyline points="44.9,572.25 63.72,565.33 82.54,572.46 101.36,568.79 120.18,571.56 139,569.69 157.82,569.48 176.64,575.71 195.46,576.75 214.28,605.01 233.1,617.61 251.92,623.22" fill="none" stroke="#f7b500" stroke-width="1.7" stroke-linejoin="round"/><path d="M42.9 570.25L46.9 574.25M46.9 570.25L42.9 574.25" stroke="#f7b500" stroke-width="0.8" fill="none"/><path d="M61.72 563.33L65.72 567.33M65.72 563.33L61.72 567.33" stroke="#f7b500" stroke-width="0.8" fill="none"/><path d="M80.54 570.46L84.54 574.46M84.54 570.46L80.54 574.46" stroke="#f7b500" stroke-width="0.8" fill="none"/><path d="M99.36 566.79L103.36 570.79M103.36 566.79L99.36 570.79" stroke="#f7b500" stroke-width="0.8" fill="none"/><path d="M118.18 569.56L122.18 573.56M122.18 569.56L118.18 573.56" stroke="#f7b500" stroke-width="0.8" fill="none"/><path d="M137 567.69L141 571.69M141 567.69L137 571.69" stroke="#f7b500" stroke-width="0.8" fill="none"/><path d="M155.82 567.48L159.82 571.48M159.82 567.48L155.82 571.48" stroke="#f7b500" stroke-width="0.8" fill="none"/><path d="M174.64 573.71L178.64 577.71M178.64 573.71L174.64 577.71" stroke="#f7b500" stroke-width="0.8" fill="none"/><path d="M193.46 574.75L197.46 578.75M197.46 574.75L193.46 578.75" stroke="#f7b500" stroke-width="0.8" fill="none"/><path d="M212.28 603.01L216.28 607.01M216.28 603.01L212.28 607.01" stroke="#f7b500" stroke-width="0.8" fill="none"/><path d="M231.1 615.61L235.1 619.61M235.1 615.61L231.1 619.61" stroke="#f7b500" stroke-width="0.8" fill="none"/><path d="M249.92 621.22L253.92 625.22M253.92 621.22L249.92 625.22" stroke="#f7b500" stroke-width="0.8" fill="none"/><text x="133.9" y="703" class="l" font-family='"Liberation Serif", serif' font-size="15.4" text-anchor="middle" fill="#111">(e)</text></g>
<g><rect x="288.6" y="474.5" width="256.9" height="212.5" fill="none" stroke="#a3a3a3" stroke-width="1.5"/><text x="417.05" y="493.7" class="s" font-family='"Liberation Sans", sans-serif' font-weight="bold" font-size="12.5" text-anchor="middle" fill="#000" textLength="25.5" lengthAdjust="spacingAndGlyphs">NC 6</text><line x1="313.8" y1="509.4" x2="333.6" y2="509.4" stroke="#3a9b3a" stroke-width="1.6"/><rect x="321.1" y="506.8" width="5.2" height="5.2" fill="#3a9b3a"/><text x="336.1" y="511.8" class="s" font-family='"Liberation Sans", sans-serif' font-size="6.6" font-style="italic" fill="#222" textLength="27.7" lengthAdjust="spacingAndGlyphs">S. aureus</text><line x1="384.4" y1="509.4" x2="404.2" y2="509.4" stroke="#1f6ec4" stroke-width="1.6"/><path d="M394.3 506.46L397.1 511.64L391.5 511.64Z" fill="#1f6ec4"/><text x="406.7" y="511.8" class="s" font-family='"Liberation Sans", sans-serif' font-size="6.6" font-style="italic" fill="#222" textLength="30.2" lengthAdjust="spacingAndGlyphs">E. faecalis</text><line x1="454.8" y1="509.4" x2="474.6" y2="509.4" stroke="#ee7430" stroke-width="1.6"/><circle cx="464.7" cy="509.4" r="3" fill="#ee7430"/><text x="477.1" y="511.8" class="s" font-family='"Liberation Sans", sans-serif' font-size="6.6" font-style="italic" fill="#222" textLength="45.8" lengthAdjust="spacingAndGlyphs">K. pneumoniae</text><line x1="313.8" y1="523.4" x2="333.6" y2="523.4" stroke="#8f8f8f" stroke-width="1.6"/><path d="M323.7 520.8L326.3 523.4L323.7 526L321.1 523.4Z" fill="#8f8f8f"/><text x="336.1" y="525.8" class="s" font-family='"Liberation Sans", sans-serif' font-size="6.6" font-style="italic" fill="#222" textLength="41.8" lengthAdjust="spacingAndGlyphs">P. aeruginosa</text><line x1="384.4" y1="523.4" x2="404.2" y2="523.4" stroke="#f7b500" stroke-width="1.6"/><path d="M392.3 521.4L396.3 525.4M396.3 521.4L392.3 525.4" stroke="#f7b500" stroke-width="0.8" fill="none"/><text x="406.7" y="525.8" class="s" font-family='"Liberation Sans", sans-serif' font-size="6.6" font-style="italic" fill="#222" textLength="32" lengthAdjust="spacingAndGlyphs">C. albicans</text><line x1="454.8" y1="523.4" x2="474.6" y2="523.4" stroke="#2891cf" stroke-width="1.8" stroke-dasharray="4 3.85"/><text x="477.1" y="525.8" class="s" font-family='"Liberation Sans", sans-serif' font-size="6.6" fill="#222" textLength="38.8" lengthAdjust="spacingAndGlyphs">50% survival</text><line x1="313.8" y1="537.5" x2="333.6" y2="537.5" stroke="#8aa4df" stroke-width="1" stroke-dasharray="1 1"/><text x="336.1" y="539.9" class="s" font-family='"Liberation Sans", sans-serif' font-size="6.6" fill="#222" textLength="38.4" lengthAdjust="spacingAndGlyphs">10% survival</text><line x1="328" y1="551.48" x2="328" y2="648.42" stroke="#bdbdbd" stroke-width="1"/><line x1="325.5" y1="648.42" x2="328" y2="648.42" stroke="#bdbdbd" stroke-width="0.8"/><text x="321.2" y="650.92" class="s" font-family='"Liberation Sans", sans-serif' font-size="7" text-anchor="end" fill="#222">-10</text><line x1="325.5" y1="641.5" x2="328" y2="641.5" stroke="#bdbdbd" stroke-width="0.8"/><text x="321.2" y="644" class="s" font-family='"Liberation Sans", sans-serif' font-size="7" text-anchor="end" fill="#222">0</text><line x1="325.5" y1="634.58" x2="328" y2="634.58" stroke="#bdbdbd" stroke-width="0.8"/><text x="321.2" y="637.08" class="s" font-family='"Liberation Sans", sans-serif' font-size="7" text-anchor="end" fill="#222">10</text><line x1="325.5" y1="627.65" x2="328" y2="627.65" stroke="#bdbdbd" stroke-width="0.8"/><text x="321.2" y="630.15" class="s" font-family='"Liberation Sans", sans-serif' font-size="7" text-anchor="end" fill="#222">20</text><line x1="325.5" y1="620.73" x2="328" y2="620.73" stroke="#bdbdbd" stroke-width="0.8"/><text x="321.2" y="623.23" class="s" font-family='"Liberation Sans", sans-serif' font-size="7" text-anchor="end" fill="#222">30</text><line x1="325.5" y1="613.8" x2="328" y2="613.8" stroke="#bdbdbd" stroke-width="0.8"/><text x="321.2" y="616.3" class="s" font-family='"Liberation Sans", sans-serif' font-size="7" text-anchor="end" fill="#222">40</text><line x1="325.5" y1="606.88" x2="328" y2="606.88" stroke="#bdbdbd" stroke-width="0.8"/><text x="321.2" y="609.38" class="s" font-family='"Liberation Sans", sans-serif' font-size="7" text-anchor="end" fill="#222">50</text><line x1="325.5" y1="599.95" x2="328" y2="599.95" stroke="#bdbdbd" stroke-width="0.8"/><text x="321.2" y="602.45" class="s" font-family='"Liberation Sans", sans-serif' font-size="7" text-anchor="end" fill="#222">60</text><line x1="325.5" y1="593.02" x2="328" y2="593.02" stroke="#bdbdbd" stroke-width="0.8"/><text x="321.2" y="595.52" class="s" font-family='"Liberation Sans", sans-serif' font-size="7" text-anchor="end" fill="#222">70</text><line x1="325.5" y1="586.1" x2="328" y2="586.1" stroke="#bdbdbd" stroke-width="0.8"/><text x="321.2" y="588.6" class="s" font-family='"Liberation Sans", sans-serif' font-size="7" text-anchor="end" fill="#222">80</text><line x1="325.5" y1="579.17" x2="328" y2="579.17" stroke="#bdbdbd" stroke-width="0.8"/><text x="321.2" y="581.67" class="s" font-family='"Liberation Sans", sans-serif' font-size="7" text-anchor="end" fill="#222">90</text><line x1="325.5" y1="572.25" x2="328" y2="572.25" stroke="#bdbdbd" stroke-width="0.8"/><text x="321.2" y="574.75" class="s" font-family='"Liberation Sans", sans-serif' font-size="7" text-anchor="end" fill="#222">100</text><line x1="325.5" y1="565.33" x2="328" y2="565.33" stroke="#bdbdbd" stroke-width="0.8"/><text x="321.2" y="567.83" class="s" font-family='"Liberation Sans", sans-serif' font-size="7" text-anchor="end" fill="#222">110</text><line x1="325.5" y1="558.4" x2="328" y2="558.4" stroke="#bdbdbd" stroke-width="0.8"/><text x="321.2" y="560.9" class="s" font-family='"Liberation Sans", sans-serif' font-size="7" text-anchor="end" fill="#222">120</text><line x1="325.5" y1="551.48" x2="328" y2="551.48" stroke="#bdbdbd" stroke-width="0.8"/><text x="321.2" y="553.98" class="s" font-family='"Liberation Sans", sans-serif' font-size="7" text-anchor="end" fill="#222">130</text><line x1="328" y1="641.5" x2="535.02" y2="641.5" stroke="#bdbdbd" stroke-width="1"/><line x1="328" y1="641.5" x2="328" y2="644" stroke="#bdbdbd" stroke-width="0.8"/><text x="328" y="665.9" class="s" font-family='"Liberation Sans", sans-serif' font-size="7" text-anchor="middle" fill="#222">0</text><line x1="346.82" y1="641.5" x2="346.82" y2="644" stroke="#bdbdbd" stroke-width="0.8"/><text x="346.82" y="665.9" class="s" font-family='"Liberation Sans", sans-serif' font-size="7" text-anchor="middle" fill="#222">0.001</text><line x1="365.64" y1="641.5" x2="365.64" y2="644" stroke="#bdbdbd" stroke-width="0.8"/><text x="365.64" y="665.9" class="s" font-family='"Liberation Sans", sans-serif' font-size="7" text-anchor="middle" fill="#222">0.002</text><line x1="384.46" y1="641.5" x2="384.46" y2="644" stroke="#bdbdbd" stroke-width="0.8"/><text x="384.46" y="665.9" class="s" font-family='"Liberation Sans", sans-serif' font-size="7" text-anchor="middle" fill="#222">0.004</text><line x1="403.28" y1="641.5" x2="403.28" y2="644" stroke="#bdbdbd" stroke-width="0.8"/><text x="403.28" y="665.9" class="s" font-family='"Liberation Sans", sans-serif' font-size="7" text-anchor="middle" fill="#222">0.008</text><line x1="422.1" y1="641.5" x2="422.1" y2="644" stroke="#bdbdbd" stroke-width="0.8"/><text x="422.1" y="665.9" class="s" font-family='"Liberation Sans", sans-serif' font-size="7" text-anchor="middle" fill="#222">0.016</text><line x1="440.92" y1="641.5" x2="440.92" y2="644" stroke="#bdbdbd" stroke-width="0.8"/><text x="440.92" y="665.9" class="s" font-family='"Liberation Sans", sans-serif' font-size="7" text-anchor="middle" fill="#222">0.032</text><line x1="459.74" y1="641.5" x2="459.74" y2="644" stroke="#bdbdbd" stroke-width="0.8"/><text x="459.74" y="665.9" class="s" font-family='"Liberation Sans", sans-serif' font-size="7" text-anchor="middle" fill="#222">0.063</text><line x1="478.56" y1="641.5" x2="478.56" y2="644" stroke="#bdbdbd" stroke-width="0.8"/><text x="478.56" y="665.9" class="s" font-family='"Liberation Sans", sans-serif' font-size="7" text-anchor="middle" fill="#222">0.125</text><line x1="497.38" y1="641.5" x2="497.38" y2="644" stroke="#bdbdbd" stroke-width="0.8"/><text x="497.38" y="665.9" class="s" font-family='"Liberation Sans", sans-serif' font-size="7" text-anchor="middle" fill="#222">0.25</text><line x1="516.2" y1="641.5" x2="516.2" y2="644" stroke="#bdbdbd" stroke-width="0.8"/><text x="516.2" y="665.9" class="s" font-family='"Liberation Sans", sans-serif' font-size="7" text-anchor="middle" fill="#222">0.5</text><line x1="535.02" y1="641.5" x2="535.02" y2="644" stroke="#bdbdbd" stroke-width="0.8"/><text x="535.02" y="665.9" class="s" font-family='"Liberation Sans", sans-serif' font-size="7" text-anchor="middle" fill="#222">1</text><text x="431.51" y="675.9" class="s" font-family='"Liberation Sans", sans-serif' font-size="7.4" font-weight="bold" text-anchor="middle" fill="#111" textLength="64.4" lengthAdjust="spacingAndGlyphs">Concentration (mM)</text><text transform="translate(305.4,599.7) rotate(-90)" class="s" font-family='"Liberation Sans", sans-serif' font-size="7.4" font-weight="bold" text-anchor="middle" fill="#111" textLength="31" lengthAdjust="spacingAndGlyphs">% survival</text><line x1="328" y1="634.58" x2="535.02" y2="634.58" stroke="#8aa4df" stroke-width="1.2" stroke-dasharray="1 1"/><line x1="328" y1="606.88" x2="535.02" y2="606.88" stroke="#2891cf" stroke-width="1.8" stroke-dasharray="4 3.85"/><path d="M328 567.4L328 578.48M326.2 567.4L329.8 567.4M326.2 578.48L329.8 578.48" stroke="#555" stroke-width="0.9" fill="none"/><path d="M346.82 565.33L346.82 592.33M345.02 565.33L348.62 565.33M345.02 592.33L348.62 592.33" stroke="#555" stroke-width="0.9" fill="none"/><path d="M365.64 563.25L365.64 591.22M363.84 563.25L367.44 563.25M363.84 591.22L367.44 591.22" stroke="#555" stroke-width="0.9" fill="none"/><path d="M384.46 565.33L384.46 599.26M382.66 565.33L386.26 565.33M382.66 599.26L386.26 599.26" stroke="#555" stroke-width="0.9" fill="none"/><path d="M403.28 571.56L403.28 599.26M401.48 571.56L405.08 571.56M401.48 599.26L405.08 599.26" stroke="#555" stroke-width="0.9" fill="none"/><path d="M422.1 571.56L422.1 602.17M420.3 571.56L423.9 571.56M420.3 602.17L423.9 602.17" stroke="#555" stroke-width="0.9" fill="none"/><path d="M440.92 583.33L440.92 607.57M439.12 583.33L442.72 583.33M439.12 607.57L442.72 607.57" stroke="#555" stroke-width="0.9" fill="none"/><path d="M459.74 603L459.74 620.73M457.94 603L461.54 603M457.94 620.73L461.54 620.73" stroke="#555" stroke-width="0.9" fill="none"/><path d="M478.56 586.1L478.56 625.85M476.76 586.1L480.36 586.1M476.76 625.85L480.36 625.85" stroke="#555" stroke-width="0.9" fill="none"/><path d="M516.2 609.64L516.2 620.73M514.4 609.64L518 609.64M514.4 620.73L518 620.73" stroke="#555" stroke-width="0.9" fill="none"/><path d="M535.02 625.85L535.02 638.94M533.22 625.85L536.82 625.85M533.22 638.94L536.82 638.94" stroke="#555" stroke-width="0.9" fill="none"/><polyline points="328,572.25 346.82,584.23 365.64,574.33 384.46,588.18 403.28,587.62 422.1,598.22 440.92,603.62 459.74,614.49 478.56,621.07 497.38,621.9 516.2,625.43 535.02,623.22" fill="none" stroke="#3a9b3a" stroke-width="1.7" stroke-linejoin="round"/><rect x="325.4" y="569.65" width="5.2" height="5.2" fill="#3a9b3a"/><rect x="344.22" y="581.63" width="5.2" height="5.2" fill="#3a9b3a"/><rect x="363.04" y="571.73" width="5.2" height="5.2" fill="#3a9b3a"/><rect x="381.86" y="585.58" width="5.2" height="5.2" fill="#3a9b3a"/><rect x="400.68" y="585.02" width="5.2" height="5.2" fill="#3a9b3a"/><rect x="419.5" y="595.62" width="5.2" height="5.2" fill="#3a9b3a"/><rect x="438.32" y="601.02" width="5.2" height="5.2" fill="#3a9b3a"/><rect x="457.14" y="611.89" width="5.2" height="5.2" fill="#3a9b3a"/><rect x="475.96" y="618.47" width="5.2" height="5.2" fill="#3a9b3a"/><rect x="494.78" y="619.3" width="5.2" height="5.2" fill="#3a9b3a"/><rect x="513.6" y="622.83" width="5.2" height="5.2" fill="#3a9b3a"/><rect x="532.42" y="620.62" width="5.2" height="5.2" fill="#3a9b3a"/><polyline points="328,572.25 346.82,575.02 365.64,568.23 384.46,573.84 403.28,580.84 422.1,585.62 440.92,585.55 459.74,594.41 478.56,603.62 497.38,609.09 516.2,621.07 535.02,629.1" fill="none" stroke="#1f6ec4" stroke-width="1.7" stroke-linejoin="round"/><path d="M328 569.31L330.8 574.49L325.2 574.49Z" fill="#1f6ec4"/><path d="M346.82 572.08L349.62 577.26L344.02 577.26Z" fill="#1f6ec4"/><path d="M365.64 565.29L368.44 570.47L362.84 570.47Z" fill="#1f6ec4"/><path d="M384.46 570.9L387.26 576.08L381.66 576.08Z" fill="#1f6ec4"/><path d="M403.28 577.9L406.08 583.08L400.48 583.08Z" fill="#1f6ec4"/><path d="M422.1 582.68L424.9 587.86L419.3 587.86Z" fill="#1f6ec4"/><path d="M440.92 582.61L443.72 587.79L438.12 587.79Z" fill="#1f6ec4"/><path d="M459.74 591.47L462.54 596.65L456.94 596.65Z" fill="#1f6ec4"/><path d="M478.56 600.68L481.36 605.86L475.76 605.86Z" fill="#1f6ec4"/><path d="M497.38 606.15L500.18 611.33L494.58 611.33Z" fill="#1f6ec4"/><path d="M516.2 618.13L519 623.31L513.4 623.31Z" fill="#1f6ec4"/><path d="M535.02 626.16L537.82 631.34L532.22 631.34Z" fill="#1f6ec4"/><polyline points="328,572.25 346.82,587.21 365.64,587.21 384.46,593.23 403.28,594.2 422.1,592.82 440.92,597.53 459.74,599.26 478.56,591.02 497.38,614.98 516.2,614.49 535.02,634.16" fill="none" stroke="#ee7430" stroke-width="1.7" stroke-linejoin="round"/><circle cx="328" cy="572.25" r="3" fill="#ee7430"/><circle cx="346.82" cy="587.21" r="3" fill="#ee7430"/><circle cx="365.64" cy="587.21" r="3" fill="#ee7430"/><circle cx="384.46" cy="593.23" r="3" fill="#ee7430"/><circle cx="403.28" cy="594.2" r="3" fill="#ee7430"/><circle cx="422.1" cy="592.82" r="3" fill="#ee7430"/><circle cx="440.92" cy="597.53" r="3" fill="#ee7430"/><circle cx="459.74" cy="599.26" r="3" fill="#ee7430"/><circle cx="478.56" cy="591.02" r="3" fill="#ee7430"/><circle cx="497.38" cy="614.98" r="3" fill="#ee7430"/><circle cx="516.2" cy="614.49" r="3" fill="#ee7430"/><circle cx="535.02" cy="634.16" r="3" fill="#ee7430"/><polyline points="328,572.25 346.82,572.25 365.64,576.4 384.46,583.33 403.28,591.64 422.1,593.23 440.92,600.16 459.74,611.72 478.56,625.43 497.38,630.63 516.2,632.43 535.02,634.99" fill="none" stroke="#8f8f8f" stroke-width="1.7" stroke-linejoin="round"/><path d="M328 569.65L330.6 572.25L328 574.85L325.4 572.25Z" fill="#8f8f8f"/><path d="M346.82 569.65L349.42 572.25L346.82 574.85L344.22 572.25Z" fill="#8f8f8f"/><path d="M365.64 573.8L368.24 576.4L365.64 579L363.04 576.4Z" fill="#8f8f8f"/><path d="M384.46 580.73L387.06 583.33L384.46 585.93L381.86 583.33Z" fill="#8f8f8f"/><path d="M403.28 589.04L405.88 591.64L403.28 594.24L400.68 591.64Z" fill="#8f8f8f"/><path d="M422.1 590.63L424.7 593.23L422.1 595.83L419.5 593.23Z" fill="#8f8f8f"/><path d="M440.92 597.56L443.52 600.16L440.92 602.76L438.32 600.16Z" fill="#8f8f8f"/><path d="M459.74 609.12L462.34 611.72L459.74 614.32L457.14 611.72Z" fill="#8f8f8f"/><path d="M478.56 622.83L481.16 625.43L478.56 628.03L475.96 625.43Z" fill="#8f8f8f"/><path d="M497.38 628.03L499.98 630.63L497.38 633.23L494.78 630.63Z" fill="#8f8f8f"/><path d="M516.2 629.83L518.8 632.43L516.2 635.03L513.6 632.43Z" fill="#8f8f8f"/><path d="M535.02 632.39L537.62 634.99L535.02 637.59L532.42 634.99Z" fill="#8f8f8f"/><polyline points="328,572.25 346.82,571.83 365.64,576.82 384.46,577.24 403.28,581.6 422.1,576.61 440.92,588.87 459.74,600.64 478.56,613.8 497.38,626.26 516.2,628.07 535.02,630.21" fill="none" stroke="#f7b500" stroke-width="1.7" stroke-linejoin="round"/><path d="M326 570.25L330 574.25M330 570.25L326 574.25" stroke="#f7b500" stroke-width="0.8" fill="none"/><path d="M344.82 569.83L348.82 573.83M348.82 569.83L344.82 573.83" stroke="#f7b500" stroke-width="0.8" fill="none"/><path d="M363.64 574.82L367.64 578.82M367.64 574.82L363.64 578.82" stroke="#f7b500" stroke-width="0.8" fill="none"/><path d="M382.46 575.24L386.46 579.24M386.46 575.24L382.46 579.24" stroke="#f7b500" stroke-width="0.8" fill="none"/><path d="M401.28 579.6L405.28 583.6M405.28 579.6L401.28 583.6" stroke="#f7b500" stroke-width="0.8" fill="none"/><path d="M420.1 574.61L424.1 578.61M424.1 574.61L420.1 578.61" stroke="#f7b500" stroke-width="0.8" fill="none"/><path d="M438.92 586.87L442.92 590.87M442.92 586.87L438.92 590.87" stroke="#f7b500" stroke-width="0.8" fill="none"/><path d="M457.74 598.64L461.74 602.64M461.74 598.64L457.74 602.64" stroke="#f7b500" stroke-width="0.8" fill="none"/><path d="M476.56 611.8L480.56 615.8M480.56 611.8L476.56 615.8" stroke="#f7b500" stroke-width="0.8" fill="none"/><path d="M495.38 624.26L499.38 628.26M499.38 624.26L495.38 628.26" stroke="#f7b500" stroke-width="0.8" fill="none"/><path d="M514.2 626.07L518.2 630.07M518.2 626.07L514.2 630.07" stroke="#f7b500" stroke-width="0.8" fill="none"/><path d="M533.02 628.21L537.02 632.21M537.02 628.21L533.02 632.21" stroke="#f7b500" stroke-width="0.8" fill="none"/><text x="417.05" y="703.1" class="l" font-family='"Liberation Serif", serif' font-size="15.4" text-anchor="middle" fill="#111">(f)</text></g>
<g><rect x="5.5" y="709.5" width="256.8" height="212.3" fill="none" stroke="#a3a3a3" stroke-width="1.5"/><text x="133.9" y="728.7" class="s" font-family='"Liberation Sans", sans-serif' font-weight="bold" font-size="12.5" text-anchor="middle" fill="#000" textLength="25.5" lengthAdjust="spacingAndGlyphs">NC 7</text><line x1="30.7" y1="744.4" x2="50.5" y2="744.4" stroke="#3a9b3a" stroke-width="1.6"/><rect x="38" y="741.8" width="5.2" height="5.2" fill="#3a9b3a"/><text x="53" y="746.8" class="s" font-family='"Liberation Sans", sans-serif' font-size="6.6" font-style="italic" fill="#222" textLength="27.7" lengthAdjust="spacingAndGlyphs">S. aureus</text><line x1="101.3" y1="744.4" x2="121.1" y2="744.4" stroke="#1f6ec4" stroke-width="1.6"/><path d="M111.2 741.46L114 746.64L108.4 746.64Z" fill="#1f6ec4"/><text x="123.6" y="746.8" class="s" font-family='"Liberation Sans", sans-serif' font-size="6.6" font-style="italic" fill="#222" textLength="30.2" lengthAdjust="spacingAndGlyphs">E. faecalis</text><line x1="171.7" y1="744.4" x2="191.5" y2="744.4" stroke="#ee7430" stroke-width="1.6"/><circle cx="181.6" cy="744.4" r="3" fill="#ee7430"/><text x="194" y="746.8" class="s" font-family='"Liberation Sans", sans-serif' font-size="6.6" font-style="italic" fill="#222" textLength="45.8" lengthAdjust="spacingAndGlyphs">K. pneumoniae</text><line x1="30.7" y1="758.4" x2="50.5" y2="758.4" stroke="#8f8f8f" stroke-width="1.6"/><path d="M40.6 755.8L43.2 758.4L40.6 761L38 758.4Z" fill="#8f8f8f"/><text x="53" y="760.8" class="s" font-family='"Liberation Sans", sans-serif' font-size="6.6" font-style="italic" fill="#222" textLength="41.8" lengthAdjust="spacingAndGlyphs">P. aeruginosa</text><line x1="101.3" y1="758.4" x2="121.1" y2="758.4" stroke="#f7b500" stroke-width="1.6"/><path d="M109.2 756.4L113.2 760.4M113.2 756.4L109.2 760.4" stroke="#f7b500" stroke-width="0.8" fill="none"/><text x="123.6" y="760.8" class="s" font-family='"Liberation Sans", sans-serif' font-size="6.6" font-style="italic" fill="#222" textLength="32" lengthAdjust="spacingAndGlyphs">C. albicans</text><line x1="171.7" y1="758.4" x2="191.5" y2="758.4" stroke="#2891cf" stroke-width="1.8" stroke-dasharray="4 3.85"/><text x="194" y="760.8" class="s" font-family='"Liberation Sans", sans-serif' font-size="6.6" fill="#222" textLength="38.8" lengthAdjust="spacingAndGlyphs">50% survival</text><line x1="30.7" y1="772.5" x2="50.5" y2="772.5" stroke="#8aa4df" stroke-width="1" stroke-dasharray="1 1"/><text x="53" y="774.9" class="s" font-family='"Liberation Sans", sans-serif' font-size="6.6" fill="#222" textLength="38.4" lengthAdjust="spacingAndGlyphs">10% survival</text><line x1="44.9" y1="786.48" x2="44.9" y2="883.42" stroke="#bdbdbd" stroke-width="1"/><line x1="42.4" y1="883.42" x2="44.9" y2="883.42" stroke="#bdbdbd" stroke-width="0.8"/><text x="38.1" y="885.92" class="s" font-family='"Liberation Sans", sans-serif' font-size="7" text-anchor="end" fill="#222">-10</text><line x1="42.4" y1="876.5" x2="44.9" y2="876.5" stroke="#bdbdbd" stroke-width="0.8"/><text x="38.1" y="879" class="s" font-family='"Liberation Sans", sans-serif' font-size="7" text-anchor="end" fill="#222">0</text><line x1="42.4" y1="869.58" x2="44.9" y2="869.58" stroke="#bdbdbd" stroke-width="0.8"/><text x="38.1" y="872.08" class="s" font-family='"Liberation Sans", sans-serif' font-size="7" text-anchor="end" fill="#222">10</text><line x1="42.4" y1="862.65" x2="44.9" y2="862.65" stroke="#bdbdbd" stroke-width="0.8"/><text x="38.1" y="865.15" class="s" font-family='"Liberation Sans", sans-serif' font-size="7" text-anchor="end" fill="#222">20</text><line x1="42.4" y1="855.73" x2="44.9" y2="855.73" stroke="#bdbdbd" stroke-width="0.8"/><text x="38.1" y="858.23" class="s" font-family='"Liberation Sans", sans-serif' font-size="7" text-anchor="end" fill="#222">30</text><line x1="42.4" y1="848.8" x2="44.9" y2="848.8" stroke="#bdbdbd" stroke-width="0.8"/><text x="38.1" y="851.3" class="s" font-family='"Liberation Sans", sans-serif' font-size="7" text-anchor="end" fill="#222">40</text><line x1="42.4" y1="841.88" x2="44.9" y2="841.88" stroke="#bdbdbd" stroke-width="0.8"/><text x="38.1" y="844.38" class="s" font-family='"Liberation Sans", sans-serif' font-size="7" text-anchor="end" fill="#222">50</text><line x1="42.4" y1="834.95" x2="44.9" y2="834.95" stroke="#bdbdbd" stroke-width="0.8"/><text x="38.1" y="837.45" class="s" font-family='"Liberation Sans", sans-serif' font-size="7" text-anchor="end" fill="#222">60</text><line x1="42.4" y1="828.02" x2="44.9" y2="828.02" stroke="#bdbdbd" stroke-width="0.8"/><text x="38.1" y="830.52" class="s" font-family='"Liberation Sans", sans-serif' font-size="7" text-anchor="end" fill="#222">70</text><line x1="42.4" y1="821.1" x2="44.9" y2="821.1" stroke="#bdbdbd" stroke-width="0.8"/><text x="38.1" y="823.6" class="s" font-family='"Liberation Sans", sans-serif' font-size="7" text-anchor="end" fill="#222">80</text><line x1="42.4" y1="814.17" x2="44.9" y2="814.17" stroke="#bdbdbd" stroke-width="0.8"/><text x="38.1" y="816.67" class="s" font-family='"Liberation Sans", sans-serif' font-size="7" text-anchor="end" fill="#222">90</text><line x1="42.4" y1="807.25" x2="44.9" y2="807.25" stroke="#bdbdbd" stroke-width="0.8"/><text x="38.1" y="809.75" class="s" font-family='"Liberation Sans", sans-serif' font-size="7" text-anchor="end" fill="#222">100</text><line x1="42.4" y1="800.33" x2="44.9" y2="800.33" stroke="#bdbdbd" stroke-width="0.8"/><text x="38.1" y="802.83" class="s" font-family='"Liberation Sans", sans-serif' font-size="7" text-anchor="end" fill="#222">110</text><line x1="42.4" y1="793.4" x2="44.9" y2="793.4" stroke="#bdbdbd" stroke-width="0.8"/><text x="38.1" y="795.9" class="s" font-family='"Liberation Sans", sans-serif' font-size="7" text-anchor="end" fill="#222">120</text><line x1="42.4" y1="786.48" x2="44.9" y2="786.48" stroke="#bdbdbd" stroke-width="0.8"/><text x="38.1" y="788.98" class="s" font-family='"Liberation Sans", sans-serif' font-size="7" text-anchor="end" fill="#222">130</text><line x1="44.9" y1="876.5" x2="251.92" y2="876.5" stroke="#bdbdbd" stroke-width="1"/><line x1="44.9" y1="876.5" x2="44.9" y2="879" stroke="#bdbdbd" stroke-width="0.8"/><text x="44.9" y="900.9" class="s" font-family='"Liberation Sans", sans-serif' font-size="7" text-anchor="middle" fill="#222">0</text><line x1="63.72" y1="876.5" x2="63.72" y2="879" stroke="#bdbdbd" stroke-width="0.8"/><text x="63.72" y="900.9" class="s" font-family='"Liberation Sans", sans-serif' font-size="7" text-anchor="middle" fill="#222">0.001</text><line x1="82.54" y1="876.5" x2="82.54" y2="879" stroke="#bdbdbd" stroke-width="0.8"/><text x="82.54" y="900.9" class="s" font-family='"Liberation Sans", sans-serif' font-size="7" text-anchor="middle" fill="#222">0.002</text><line x1="101.36" y1="876.5" x2="101.36" y2="879" stroke="#bdbdbd" stroke-width="0.8"/><text x="101.36" y="900.9" class="s" font-family='"Liberation Sans", sans-serif' font-size="7" text-anchor="middle" fill="#222">0.004</text><line x1="120.18" y1="876.5" x2="120.18" y2="879" stroke="#bdbdbd" stroke-width="0.8"/><text x="120.18" y="900.9" class="s" font-family='"Liberation Sans", sans-serif' font-size="7" text-anchor="middle" fill="#222">0.008</text><line x1="139" y1="876.5" x2="139" y2="879" stroke="#bdbdbd" stroke-width="0.8"/><text x="139" y="900.9" class="s" font-family='"Liberation Sans", sans-serif' font-size="7" text-anchor="middle" fill="#222">0.016</text><line x1="157.82" y1="876.5" x2="157.82" y2="879" stroke="#bdbdbd" stroke-width="0.8"/><text x="157.82" y="900.9" class="s" font-family='"Liberation Sans", sans-serif' font-size="7" text-anchor="middle" fill="#222">0.032</text><line x1="176.64" y1="876.5" x2="176.64" y2="879" stroke="#bdbdbd" stroke-width="0.8"/><text x="176.64" y="900.9" class="s" font-family='"Liberation Sans", sans-serif' font-size="7" text-anchor="middle" fill="#222">0.063</text><line x1="195.46" y1="876.5" x2="195.46" y2="879" stroke="#bdbdbd" stroke-width="0.8"/><text x="195.46" y="900.9" class="s" font-family='"Liberation Sans", sans-serif' font-size="7" text-anchor="middle" fill="#222">0.125</text><line x1="214.28" y1="876.5" x2="214.28" y2="879" stroke="#bdbdbd" stroke-width="0.8"/><text x="214.28" y="900.9" class="s" font-family='"Liberation Sans", sans-serif' font-size="7" text-anchor="middle" fill="#222">0.25</text><line x1="233.1" y1="876.5" x2="233.1" y2="879" stroke="#bdbdbd" stroke-width="0.8"/><text x="233.1" y="900.9" class="s" font-family='"Liberation Sans", sans-serif' font-size="7" text-anchor="middle" fill="#222">0.5</text><line x1="251.92" y1="876.5" x2="251.92" y2="879" stroke="#bdbdbd" stroke-width="0.8"/><text x="251.92" y="900.9" class="s" font-family='"Liberation Sans", sans-serif' font-size="7" text-anchor="middle" fill="#222">1</text><text x="148.41" y="910.9" class="s" font-family='"Liberation Sans", sans-serif' font-size="7.4" font-weight="bold" text-anchor="middle" fill="#111" textLength="64.4" lengthAdjust="spacingAndGlyphs">Concentration (mM)</text><text transform="translate(22.3,834.7) rotate(-90)" class="s" font-family='"Liberation Sans", sans-serif' font-size="7.4" font-weight="bold" text-anchor="middle" fill="#111" textLength="31" lengthAdjust="spacingAndGlyphs">% survival</text><line x1="44.9" y1="869.58" x2="251.92" y2="869.58" stroke="#8aa4df" stroke-width="1.2" stroke-dasharray="1 1"/><line x1="44.9" y1="841.88" x2="251.92" y2="841.88" stroke="#2891cf" stroke-width="1.8" stroke-dasharray="4 3.85"/><path d="M44.9 800.33L44.9 814.17M43.1 800.33L46.7 800.33M43.1 814.17L46.7 814.17" stroke="#555" stroke-width="0.9" fill="none"/><path d="M63.72 789.25L63.72 807.25M61.92 789.25L65.52 789.25M61.92 807.25L65.52 807.25" stroke="#555" stroke-width="0.9" fill="none"/><path d="M82.54 803.1L82.54 833.08M80.74 803.1L84.34 803.1M80.74 833.08L84.34 833.08" stroke="#555" stroke-width="0.9" fill="none"/><path d="M101.36 815.56L101.36 831.07M99.56 815.56L103.16 815.56M99.56 831.07L103.16 831.07" stroke="#555" stroke-width="0.9" fill="none"/><path d="M120.18 806.07L120.18 840.07M118.38 806.07L121.98 806.07M118.38 840.07L121.98 840.07" stroke="#555" stroke-width="0.9" fill="none"/><path d="M139 809.05L139 825.25M137.2 809.05L140.8 809.05M137.2 825.25L140.8 825.25" stroke="#555" stroke-width="0.9" fill="none"/><path d="M157.82 815.56L157.82 824.56M156.02 815.56L159.62 815.56M156.02 824.56L159.62 824.56" stroke="#555" stroke-width="0.9" fill="none"/><path d="M157.82 830.1L157.82 843.26M156.02 830.1L159.62 830.1M156.02 843.26L159.62 843.26" stroke="#555" stroke-width="0.9" fill="none"/><path d="M176.64 846.72L176.64 853.65M174.84 846.72L178.44 846.72M174.84 853.65L178.44 853.65" stroke="#555" stroke-width="0.9" fill="none"/><path d="M195.46 831.07L195.46 835.64M193.66 831.07L197.26 831.07M193.66 835.64L197.26 835.64" stroke="#555" stroke-width="0.9" fill="none"/><path d="M195.46 846.72L195.46 856.63M193.66 846.72L197.26 846.72M193.66 856.63L197.26 856.63" stroke="#555" stroke-width="0.9" fill="none"/><path d="M195.46 863.34L195.46 871.1M193.66 863.34L197.26 863.34M193.66 871.1L197.26 871.1" stroke="#555" stroke-width="0.9" fill="none"/><path d="M214.28 832.18L214.28 837.72M212.48 832.18L216.08 832.18M212.48 837.72L216.08 837.72" stroke="#555" stroke-width="0.9" fill="none"/><path d="M233.1 858.84L233.1 873.25M231.3 858.84L234.9 858.84M231.3 873.25L234.9 873.25" stroke="#555" stroke-width="0.9" fill="none"/><path d="M251.92 850.18L251.92 854.34M250.12 850.18L253.72 850.18M250.12 854.34L253.72 854.34" stroke="#555" stroke-width="0.9" fill="none"/><path d="M251.92 858.84L251.92 874.42M250.12 858.84L253.72 858.84M250.12 874.42L253.72 874.42" stroke="#555" stroke-width="0.9" fill="none"/><polyline points="44.9,807.25 63.72,806.07 82.54,823.18 101.36,835.09 120.18,842.5 139,856.07 157.82,857.8 176.64,857.8 195.46,857.8 214.28,859.53 233.1,862.65 251.92,864.03" fill="none" stroke="#3a9b3a" stroke-width="1.7" stroke-linejoin="round"/><rect x="42.3" y="804.65" width="5.2" height="5.2" fill="#3a9b3a"/><rect x="61.12" y="803.47" width="5.2" height="5.2" fill="#3a9b3a"/><rect x="79.94" y="820.58" width="5.2" height="5.2" fill="#3a9b3a"/><rect x="98.76" y="832.49" width="5.2" height="5.2" fill="#3a9b3a"/><rect x="117.58" y="839.9" width="5.2" height="5.2" fill="#3a9b3a"/><rect x="136.4" y="853.47" width="5.2" height="5.2" fill="#3a9b3a"/><rect x="155.22" y="855.2" width="5.2" height="5.2" fill="#3a9b3a"/><rect x="174.04" y="855.2" width="5.2" height="5.2" fill="#3a9b3a"/><rect x="192.86" y="855.2" width="5.2" height="5.2" fill="#3a9b3a"/><rect x="211.68" y="856.93" width="5.2" height="5.2" fill="#3a9b3a"/><rect x="230.5" y="860.05" width="5.2" height="5.2" fill="#3a9b3a"/><rect x="249.32" y="861.43" width="5.2" height="5.2" fill="#3a9b3a"/><polyline points="44.9,807.25 63.72,810.02 82.54,817.08 101.36,822.07 120.18,833.08 139,836.47 157.82,843.26 176.64,847.41 195.46,851.57 214.28,857.8 233.1,859.33 251.92,870.61" fill="none" stroke="#1f6ec4" stroke-width="1.7" stroke-linejoin="round"/><path d="M44.9 804.31L47.7 809.49L42.1 809.49Z" fill="#1f6ec4"/><path d="M63.72 807.08L66.52 812.26L60.92 812.26Z" fill="#1f6ec4"/><path d="M82.54 814.14L85.34 819.32L79.74 819.32Z" fill="#1f6ec4"/><path d="M101.36 819.13L104.16 824.31L98.56 824.31Z" fill="#1f6ec4"/><path d="M120.18 830.14L122.98 835.32L117.38 835.32Z" fill="#1f6ec4"/><path d="M139 833.53L141.8 838.71L136.2 838.71Z" fill="#1f6ec4"/><path d="M157.82 840.32L160.62 845.5L155.02 845.5Z" fill="#1f6ec4"/><path d="M176.64 844.47L179.44 849.65L173.84 849.65Z" fill="#1f6ec4"/><path d="M195.46 848.63L198.26 853.81L192.66 853.81Z" fill="#1f6ec4"/><path d="M214.28 854.86L217.08 860.04L211.48 860.04Z" fill="#1f6ec4"/><path d="M233.1 856.39L235.9 861.57L230.3 861.57Z" fill="#1f6ec4"/><path d="M251.92 867.67L254.72 872.85L249.12 872.85Z" fill="#1f6ec4"/><polyline points="44.9,807.25 63.72,796.45 82.54,826.09 101.36,823.18 120.18,828.72 139,831.7 157.82,835.64 176.64,851.78 195.46,864.38 214.28,864.03 233.1,867.01 251.92,868.19" fill="none" stroke="#ee7430" stroke-width="1.7" stroke-linejoin="round"/><circle cx="44.9" cy="807.25" r="3" fill="#ee7430"/><circle cx="63.72" cy="796.45" r="3" fill="#ee7430"/><circle cx="82.54" cy="826.09" r="3" fill="#ee7430"/><circle cx="101.36" cy="823.18" r="3" fill="#ee7430"/><circle cx="120.18" cy="828.72" r="3" fill="#ee7430"/><circle cx="139" cy="831.7" r="3" fill="#ee7430"/><circle cx="157.82" cy="835.64" r="3" fill="#ee7430"/><circle cx="176.64" cy="851.78" r="3" fill="#ee7430"/><circle cx="195.46" cy="864.38" r="3" fill="#ee7430"/><circle cx="214.28" cy="864.03" r="3" fill="#ee7430"/><circle cx="233.1" cy="867.01" r="3" fill="#ee7430"/><circle cx="251.92" cy="868.19" r="3" fill="#ee7430"/><polyline points="44.9,807.25 63.72,811.68 82.54,823.87 101.36,831.07 120.18,843.68 139,857.8 157.82,859.53 176.64,862.65 195.46,867.71 214.28,867.71 233.1,864.03 251.92,863.34" fill="none" stroke="#8f8f8f" stroke-width="1.7" stroke-linejoin="round"/><path d="M44.9 804.65L47.5 807.25L44.9 809.85L42.3 807.25Z" fill="#8f8f8f"/><path d="M63.72 809.08L66.32 811.68L63.72 814.28L61.12 811.68Z" fill="#8f8f8f"/><path d="M82.54 821.27L85.14 823.87L82.54 826.47L79.94 823.87Z" fill="#8f8f8f"/><path d="M101.36 828.47L103.96 831.07L101.36 833.67L98.76 831.07Z" fill="#8f8f8f"/><path d="M120.18 841.08L122.78 843.68L120.18 846.28L117.58 843.68Z" fill="#8f8f8f"/><path d="M139 855.2L141.6 857.8L139 860.4L136.4 857.8Z" fill="#8f8f8f"/><path d="M157.82 856.93L160.42 859.53L157.82 862.13L155.22 859.53Z" fill="#8f8f8f"/><path d="M176.64 860.05L179.24 862.65L176.64 865.25L174.04 862.65Z" fill="#8f8f8f"/><path d="M195.46 865.11L198.06 867.71L195.46 870.31L192.86 867.71Z" fill="#8f8f8f"/><path d="M214.28 865.11L216.88 867.71L214.28 870.31L211.68 867.71Z" fill="#8f8f8f"/><path d="M233.1 861.43L235.7 864.03L233.1 866.63L230.5 864.03Z" fill="#8f8f8f"/><path d="M251.92 860.74L254.52 863.34L251.92 865.94L249.32 863.34Z" fill="#8f8f8f"/><polyline points="44.9,807.25 63.72,806.63 82.54,808.08 101.36,805.66 120.18,811.06 139,813.07 157.82,819.99 176.64,828.86 195.46,833.29 214.28,835.09 233.1,840.49 251.92,852.26" fill="none" stroke="#f7b500" stroke-width="1.7" stroke-linejoin="round"/><path d="M42.9 805.25L46.9 809.25M46.9 805.25L42.9 809.25" stroke="#f7b500" stroke-width="0.8" fill="none"/><path d="M61.72 804.63L65.72 808.63M65.72 804.63L61.72 808.63" stroke="#f7b500" stroke-width="0.8" fill="none"/><path d="M80.54 806.08L84.54 810.08M84.54 806.08L80.54 810.08" stroke="#f7b500" stroke-width="0.8" fill="none"/><path d="M99.36 803.66L103.36 807.66M103.36 803.66L99.36 807.66" stroke="#f7b500" stroke-width="0.8" fill="none"/><path d="M118.18 809.06L122.18 813.06M122.18 809.06L118.18 813.06" stroke="#f7b500" stroke-width="0.8" fill="none"/><path d="M137 811.07L141 815.07M141 811.07L137 815.07" stroke="#f7b500" stroke-width="0.8" fill="none"/><path d="M155.82 817.99L159.82 821.99M159.82 817.99L155.82 821.99" stroke="#f7b500" stroke-width="0.8" fill="none"/><path d="M174.64 826.86L178.64 830.86M178.64 826.86L174.64 830.86" stroke="#f7b500" stroke-width="0.8" fill="none"/><path d="M193.46 831.29L197.46 835.29M197.46 831.29L193.46 835.29" stroke="#f7b500" stroke-width="0.8" fill="none"/><path d="M212.28 833.09L216.28 837.09M216.28 833.09L212.28 837.09" stroke="#f7b500" stroke-width="0.8" fill="none"/><path d="M231.1 838.49L235.1 842.49M235.1 838.49L231.1 842.49" stroke="#f7b500" stroke-width="0.8" fill="none"/><path d="M249.92 850.26L253.92 854.26M253.92 850.26L249.92 854.26" stroke="#f7b500" stroke-width="0.8" fill="none"/><text x="133.9" y="937.9" class="l" font-family='"Liberation Serif", serif' font-size="15.4" text-anchor="middle" fill="#111">(g)</text></g>
</svg></body></html>
